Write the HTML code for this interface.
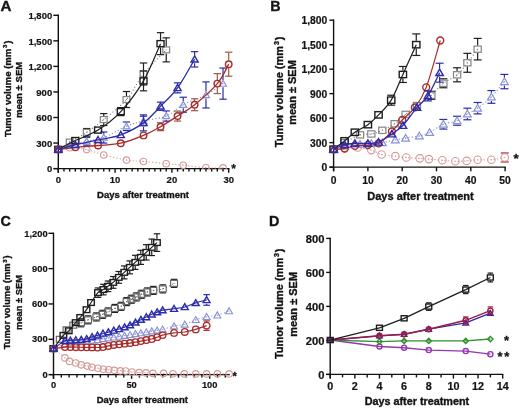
<!DOCTYPE html><html><head><meta charset="utf-8"><style>html,body{margin:0;padding:0;background:#fff;width:520px;height:408px;overflow:hidden}svg{display:block;filter:blur(0.3px)}text{font-family:"Liberation Sans",sans-serif}</style></head><body>
<svg width="520" height="408" viewBox="0 0 520 408">
<rect width="520" height="408" fill="#fff"/>
<text transform="translate(0.5,11.1)" font-size="15.2" text-anchor="start" fill="#141414" font-weight="bold" stroke="#141414" stroke-width="0.35">A</text>
<line x1="58.3" y1="14.6" x2="58.3" y2="172.8" stroke="#111" stroke-width="1.4"/>
<line x1="54.1" y1="168.6" x2="229.4" y2="168.6" stroke="#111" stroke-width="1.4"/>
<line x1="53.3" y1="168.6" x2="58.3" y2="168.6" stroke="#111" stroke-width="1.4"/>
<text transform="translate(52.2,172.4)" font-size="9.5" text-anchor="end" fill="#141414" font-weight="bold" stroke="#141414" stroke-width="0.2">0</text>
<line x1="53.3" y1="143.05" x2="58.3" y2="143.05" stroke="#111" stroke-width="1.4"/>
<text transform="translate(52.2,146.85)" font-size="9.5" text-anchor="end" fill="#141414" font-weight="bold" stroke="#141414" stroke-width="0.2">300</text>
<line x1="53.3" y1="117.5" x2="58.3" y2="117.5" stroke="#111" stroke-width="1.4"/>
<text transform="translate(52.2,121.3)" font-size="9.5" text-anchor="end" fill="#141414" font-weight="bold" stroke="#141414" stroke-width="0.2">600</text>
<line x1="53.3" y1="91.95" x2="58.3" y2="91.95" stroke="#111" stroke-width="1.4"/>
<text transform="translate(52.2,95.75)" font-size="9.5" text-anchor="end" fill="#141414" font-weight="bold" stroke="#141414" stroke-width="0.2">900</text>
<line x1="53.3" y1="66.4" x2="58.3" y2="66.4" stroke="#111" stroke-width="1.4"/>
<text transform="translate(52.2,70.2)" font-size="9.5" text-anchor="end" fill="#141414" font-weight="bold" stroke="#141414" stroke-width="0.2">1,200</text>
<line x1="53.3" y1="40.85" x2="58.3" y2="40.85" stroke="#111" stroke-width="1.4"/>
<text transform="translate(52.2,44.65)" font-size="9.5" text-anchor="end" fill="#141414" font-weight="bold" stroke="#141414" stroke-width="0.2">1,500</text>
<line x1="53.3" y1="15.3" x2="58.3" y2="15.3" stroke="#111" stroke-width="1.4"/>
<text transform="translate(52.2,19.1)" font-size="9.5" text-anchor="end" fill="#141414" font-weight="bold" stroke="#141414" stroke-width="0.2">1,800</text>
<line x1="63.98" y1="168.6" x2="63.98" y2="171.6" stroke="#111" stroke-width="1.4"/>
<line x1="69.66" y1="168.6" x2="69.66" y2="171.6" stroke="#111" stroke-width="1.4"/>
<line x1="75.34" y1="168.6" x2="75.34" y2="171.6" stroke="#111" stroke-width="1.4"/>
<line x1="81.02" y1="168.6" x2="81.02" y2="171.6" stroke="#111" stroke-width="1.4"/>
<line x1="86.7" y1="168.6" x2="86.7" y2="171.6" stroke="#111" stroke-width="1.4"/>
<line x1="92.38" y1="168.6" x2="92.38" y2="171.6" stroke="#111" stroke-width="1.4"/>
<line x1="98.06" y1="168.6" x2="98.06" y2="171.6" stroke="#111" stroke-width="1.4"/>
<line x1="103.74" y1="168.6" x2="103.74" y2="171.6" stroke="#111" stroke-width="1.4"/>
<line x1="109.42" y1="168.6" x2="109.42" y2="171.6" stroke="#111" stroke-width="1.4"/>
<line x1="120.78" y1="168.6" x2="120.78" y2="171.6" stroke="#111" stroke-width="1.4"/>
<line x1="126.46" y1="168.6" x2="126.46" y2="171.6" stroke="#111" stroke-width="1.4"/>
<line x1="132.14" y1="168.6" x2="132.14" y2="171.6" stroke="#111" stroke-width="1.4"/>
<line x1="137.82" y1="168.6" x2="137.82" y2="171.6" stroke="#111" stroke-width="1.4"/>
<line x1="143.5" y1="168.6" x2="143.5" y2="171.6" stroke="#111" stroke-width="1.4"/>
<line x1="149.18" y1="168.6" x2="149.18" y2="171.6" stroke="#111" stroke-width="1.4"/>
<line x1="154.86" y1="168.6" x2="154.86" y2="171.6" stroke="#111" stroke-width="1.4"/>
<line x1="160.54" y1="168.6" x2="160.54" y2="171.6" stroke="#111" stroke-width="1.4"/>
<line x1="166.22" y1="168.6" x2="166.22" y2="171.6" stroke="#111" stroke-width="1.4"/>
<line x1="177.58" y1="168.6" x2="177.58" y2="171.6" stroke="#111" stroke-width="1.4"/>
<line x1="183.26" y1="168.6" x2="183.26" y2="171.6" stroke="#111" stroke-width="1.4"/>
<line x1="188.94" y1="168.6" x2="188.94" y2="171.6" stroke="#111" stroke-width="1.4"/>
<line x1="194.62" y1="168.6" x2="194.62" y2="171.6" stroke="#111" stroke-width="1.4"/>
<line x1="200.3" y1="168.6" x2="200.3" y2="171.6" stroke="#111" stroke-width="1.4"/>
<line x1="205.98" y1="168.6" x2="205.98" y2="171.6" stroke="#111" stroke-width="1.4"/>
<line x1="211.66" y1="168.6" x2="211.66" y2="171.6" stroke="#111" stroke-width="1.4"/>
<line x1="217.34" y1="168.6" x2="217.34" y2="171.6" stroke="#111" stroke-width="1.4"/>
<line x1="223.02" y1="168.6" x2="223.02" y2="171.6" stroke="#111" stroke-width="1.4"/>
<line x1="58.3" y1="168.6" x2="58.3" y2="172.8" stroke="#111" stroke-width="1.4"/>
<text transform="translate(58.3,183.4)" font-size="9.5" text-anchor="middle" fill="#141414" font-weight="bold" stroke="#141414" stroke-width="0.2">0</text>
<line x1="115.1" y1="168.6" x2="115.1" y2="172.8" stroke="#111" stroke-width="1.4"/>
<text transform="translate(115.1,183.4)" font-size="9.5" text-anchor="middle" fill="#141414" font-weight="bold" stroke="#141414" stroke-width="0.2">10</text>
<line x1="171.9" y1="168.6" x2="171.9" y2="172.8" stroke="#111" stroke-width="1.4"/>
<text transform="translate(171.9,183.4)" font-size="9.5" text-anchor="middle" fill="#141414" font-weight="bold" stroke="#141414" stroke-width="0.2">20</text>
<line x1="228.7" y1="168.6" x2="228.7" y2="172.8" stroke="#111" stroke-width="1.4"/>
<text transform="translate(228.7,183.4)" font-size="9.5" text-anchor="middle" fill="#141414" font-weight="bold" stroke="#141414" stroke-width="0.2">30</text>
<text transform="translate(10.5,88.7) rotate(-90)" font-size="9.6" text-anchor="middle" fill="#141414" font-weight="bold" stroke="#141414" stroke-width="0.35">Tumor volume (mm<tspan font-size="6.1" dx="0.7" dy="-3.5">3</tspan><tspan dx="0.8" dy="3.5">)</tspan></text>
<text transform="translate(22.4,89.9) rotate(-90)" font-size="9.6" text-anchor="middle" fill="#141414" font-weight="bold" stroke="#141414" stroke-width="0.35">mean ± SEM</text>
<text transform="translate(143.05,198)" font-size="9.5" text-anchor="middle" fill="#141414" font-weight="bold" stroke="#141414" stroke-width="0.35">Days after treatment</text>
<text transform="translate(231.2,173.3)" font-size="12" text-anchor="start" fill="#141414" font-weight="bold" stroke="#141414" stroke-width="0.2">*</text>
<clipPath id="clipA"><rect x="0" y="0" width="260" height="169.2"/></clipPath><g clip-path="url(#clipA)">
<path d="M58.3,149.44 C60.19,149.15 64.93,147.71 69.66,147.73 C74.39,147.76 81.02,148.4 86.7,149.61 C92.38,150.81 97.11,153.23 103.74,154.97 C110.37,156.72 119.83,159 126.46,160.08 C133.09,161.16 136.87,160.84 143.5,161.45 C150.13,162.06 159.59,163.12 166.22,163.75 C172.85,164.37 176.63,164.53 183.26,165.19 C189.89,165.86 199.35,167.29 205.98,167.75 C212.61,168.2 220.18,167.89 223.02,167.92" fill="none" stroke="#d49a9a" stroke-width="1.1" stroke-dasharray="1.2,2.1"/>
<circle cx="58.3" cy="149.44" r="3.25" fill="none" stroke="#d49a9a" stroke-width="1.1"/>
<rect x="57.8" y="148.94" width="1" height="1" fill="#d49a9a"/>
<circle cx="69.66" cy="147.73" r="3.25" fill="none" stroke="#d49a9a" stroke-width="1.1"/>
<rect x="69.16" y="147.23" width="1" height="1" fill="#d49a9a"/>
<circle cx="86.7" cy="149.61" r="3.25" fill="none" stroke="#d49a9a" stroke-width="1.1"/>
<rect x="86.2" y="149.11" width="1" height="1" fill="#d49a9a"/>
<circle cx="103.74" cy="154.97" r="3.25" fill="none" stroke="#d49a9a" stroke-width="1.1"/>
<rect x="103.24" y="154.47" width="1" height="1" fill="#d49a9a"/>
<circle cx="126.46" cy="160.08" r="3.25" fill="none" stroke="#d49a9a" stroke-width="1.1"/>
<rect x="125.96" y="159.58" width="1" height="1" fill="#d49a9a"/>
<circle cx="143.5" cy="161.45" r="3.25" fill="none" stroke="#d49a9a" stroke-width="1.1"/>
<rect x="143" y="160.95" width="1" height="1" fill="#d49a9a"/>
<circle cx="166.22" cy="163.75" r="3.25" fill="none" stroke="#d49a9a" stroke-width="1.1"/>
<rect x="165.72" y="163.25" width="1" height="1" fill="#d49a9a"/>
<circle cx="183.26" cy="165.19" r="3.25" fill="none" stroke="#d49a9a" stroke-width="1.1"/>
<rect x="182.76" y="164.69" width="1" height="1" fill="#d49a9a"/>
<circle cx="205.98" cy="167.75" r="3.25" fill="none" stroke="#d49a9a" stroke-width="1.1"/>
<rect x="205.48" y="167.25" width="1" height="1" fill="#d49a9a"/>
<circle cx="223.02" cy="167.92" r="3.25" fill="none" stroke="#d49a9a" stroke-width="1.1"/>
<rect x="222.52" y="167.42" width="1" height="1" fill="#d49a9a"/>
</g>
<path d="M58.3,149.44 C60.19,148.73 64.93,146.54 69.66,145.18 C74.39,143.82 81.02,142.54 86.7,141.26 C92.38,139.98 97.11,140.01 103.74,137.51 C110.37,135.02 119.83,129.04 126.46,126.27 C133.09,123.5 136.87,122.61 143.5,120.91 C150.13,119.2 159.59,118.75 166.22,116.05 C172.85,113.36 176.63,108.25 183.26,104.72 C189.89,101.2 199.35,98.45 205.98,94.93 C212.61,91.41 220.18,85.49 223.02,83.6" fill="none" stroke="#8a92d2" stroke-width="1.1" stroke-dasharray="1.2,2.1"/>
<line x1="86.7" y1="137.36" x2="86.7" y2="137.66" stroke="#2b2bab" stroke-width="1.2"/>
<line x1="86.7" y1="144.86" x2="86.7" y2="145.16" stroke="#2b2bab" stroke-width="1.2"/>
<line x1="83.05" y1="137.36" x2="90.35" y2="137.36" stroke="#2b2bab" stroke-width="1.2"/>
<line x1="83.05" y1="145.16" x2="90.35" y2="145.16" stroke="#2b2bab" stroke-width="1.2"/>
<line x1="103.74" y1="131.98" x2="103.74" y2="133.91" stroke="#2b2bab" stroke-width="1.2"/>
<line x1="103.74" y1="141.11" x2="103.74" y2="143.05" stroke="#2b2bab" stroke-width="1.2"/>
<line x1="100.09" y1="131.98" x2="107.39" y2="131.98" stroke="#2b2bab" stroke-width="1.2"/>
<line x1="100.09" y1="143.05" x2="107.39" y2="143.05" stroke="#2b2bab" stroke-width="1.2"/>
<line x1="126.46" y1="122.01" x2="126.46" y2="122.67" stroke="#2b2bab" stroke-width="1.2"/>
<line x1="126.46" y1="129.87" x2="126.46" y2="130.53" stroke="#2b2bab" stroke-width="1.2"/>
<line x1="122.81" y1="122.01" x2="130.11" y2="122.01" stroke="#2b2bab" stroke-width="1.2"/>
<line x1="122.81" y1="130.53" x2="130.11" y2="130.53" stroke="#2b2bab" stroke-width="1.2"/>
<line x1="143.5" y1="116.22" x2="143.5" y2="117.31" stroke="#2b2bab" stroke-width="1.2"/>
<line x1="143.5" y1="124.51" x2="143.5" y2="125.59" stroke="#2b2bab" stroke-width="1.2"/>
<line x1="139.85" y1="116.22" x2="147.15" y2="116.22" stroke="#2b2bab" stroke-width="1.2"/>
<line x1="139.85" y1="125.59" x2="147.15" y2="125.59" stroke="#2b2bab" stroke-width="1.2"/>
<line x1="166.22" y1="110.94" x2="166.22" y2="112.45" stroke="#2b2bab" stroke-width="1.2"/>
<line x1="166.22" y1="119.65" x2="166.22" y2="121.16" stroke="#2b2bab" stroke-width="1.2"/>
<line x1="162.57" y1="110.94" x2="169.87" y2="110.94" stroke="#2b2bab" stroke-width="1.2"/>
<line x1="162.57" y1="121.16" x2="169.87" y2="121.16" stroke="#2b2bab" stroke-width="1.2"/>
<line x1="183.26" y1="97.23" x2="183.26" y2="101.12" stroke="#2b2bab" stroke-width="1.2"/>
<line x1="183.26" y1="108.32" x2="183.26" y2="112.22" stroke="#2b2bab" stroke-width="1.2"/>
<line x1="179.61" y1="97.23" x2="186.91" y2="97.23" stroke="#2b2bab" stroke-width="1.2"/>
<line x1="179.61" y1="112.22" x2="186.91" y2="112.22" stroke="#2b2bab" stroke-width="1.2"/>
<line x1="205.98" y1="81.9" x2="205.98" y2="91.33" stroke="#2b2bab" stroke-width="1.2"/>
<line x1="205.98" y1="98.53" x2="205.98" y2="107.96" stroke="#2b2bab" stroke-width="1.2"/>
<line x1="202.33" y1="81.9" x2="209.63" y2="81.9" stroke="#2b2bab" stroke-width="1.2"/>
<line x1="202.33" y1="107.96" x2="209.63" y2="107.96" stroke="#2b2bab" stroke-width="1.2"/>
<line x1="223.02" y1="68.02" x2="223.02" y2="80" stroke="#2b2bab" stroke-width="1.2"/>
<line x1="223.02" y1="87.2" x2="223.02" y2="99.19" stroke="#2b2bab" stroke-width="1.2"/>
<line x1="219.37" y1="68.02" x2="226.67" y2="68.02" stroke="#2b2bab" stroke-width="1.2"/>
<line x1="219.37" y1="99.19" x2="226.67" y2="99.19" stroke="#2b2bab" stroke-width="1.2"/>
<path d="M58.3,146.14 L61.77,152.08 L54.83,152.08 Z" fill="none" stroke="#8a92d2" stroke-width="1.2" stroke-linejoin="miter"/>
<rect x="57.8" y="148.94" width="1" height="1" fill="#8a92d2"/>
<path d="M69.66,141.88 L73.12,147.82 L66.19,147.82 Z" fill="none" stroke="#8a92d2" stroke-width="1.2" stroke-linejoin="miter"/>
<rect x="69.16" y="144.68" width="1" height="1" fill="#8a92d2"/>
<path d="M86.7,137.96 L90.16,143.9 L83.23,143.9 Z" fill="none" stroke="#8a92d2" stroke-width="1.2" stroke-linejoin="miter"/>
<rect x="86.2" y="140.76" width="1" height="1" fill="#8a92d2"/>
<path d="M103.74,134.21 L107.2,140.15 L100.27,140.15 Z" fill="none" stroke="#8a92d2" stroke-width="1.2" stroke-linejoin="miter"/>
<rect x="103.24" y="137.01" width="1" height="1" fill="#8a92d2"/>
<path d="M126.46,122.97 L129.92,128.91 L122.99,128.91 Z" fill="none" stroke="#8a92d2" stroke-width="1.2" stroke-linejoin="miter"/>
<rect x="125.96" y="125.77" width="1" height="1" fill="#8a92d2"/>
<path d="M143.5,117.61 L146.97,123.55 L140.03,123.55 Z" fill="none" stroke="#8a92d2" stroke-width="1.2" stroke-linejoin="miter"/>
<rect x="143" y="120.41" width="1" height="1" fill="#8a92d2"/>
<path d="M166.22,112.75 L169.68,118.69 L162.75,118.69 Z" fill="none" stroke="#8a92d2" stroke-width="1.2" stroke-linejoin="miter"/>
<rect x="165.72" y="115.55" width="1" height="1" fill="#8a92d2"/>
<path d="M183.26,101.42 L186.72,107.36 L179.79,107.36 Z" fill="none" stroke="#8a92d2" stroke-width="1.2" stroke-linejoin="miter"/>
<rect x="182.76" y="104.22" width="1" height="1" fill="#8a92d2"/>
<path d="M205.98,91.63 L209.45,97.57 L202.52,97.57 Z" fill="none" stroke="#8a92d2" stroke-width="1.2" stroke-linejoin="miter"/>
<rect x="205.48" y="94.43" width="1" height="1" fill="#8a92d2"/>
<path d="M223.02,80.3 L226.48,86.24 L219.55,86.24 Z" fill="none" stroke="#8a92d2" stroke-width="1.2" stroke-linejoin="miter"/>
<rect x="222.52" y="83.1" width="1" height="1" fill="#8a92d2"/>
<path d="M58.3,149.44 C60.19,148.2 64.93,144.88 69.66,142.03 C74.39,139.17 81.02,136.07 86.7,132.32 C92.38,128.57 97.11,125.01 103.74,119.54 C110.37,114.08 119.83,107.12 126.46,99.53 C133.09,91.94 136.87,82.26 143.5,73.98 C150.13,65.7 162.43,53.89 166.22,49.88" fill="none" stroke="#858585" stroke-width="1.1" stroke-dasharray="1.2,2.1"/>
<line x1="86.7" y1="128.52" x2="86.7" y2="128.82" stroke="#1e1e1e" stroke-width="1.2"/>
<line x1="86.7" y1="135.82" x2="86.7" y2="136.12" stroke="#1e1e1e" stroke-width="1.2"/>
<line x1="83.05" y1="128.52" x2="90.35" y2="128.52" stroke="#1e1e1e" stroke-width="1.2"/>
<line x1="83.05" y1="136.12" x2="90.35" y2="136.12" stroke="#1e1e1e" stroke-width="1.2"/>
<line x1="103.74" y1="113.58" x2="103.74" y2="116.04" stroke="#1e1e1e" stroke-width="1.2"/>
<line x1="103.74" y1="123.04" x2="103.74" y2="125.51" stroke="#1e1e1e" stroke-width="1.2"/>
<line x1="100.09" y1="113.58" x2="107.39" y2="113.58" stroke="#1e1e1e" stroke-width="1.2"/>
<line x1="100.09" y1="125.51" x2="107.39" y2="125.51" stroke="#1e1e1e" stroke-width="1.2"/>
<line x1="126.46" y1="91.52" x2="126.46" y2="96.03" stroke="#1e1e1e" stroke-width="1.2"/>
<line x1="126.46" y1="103.03" x2="126.46" y2="107.54" stroke="#1e1e1e" stroke-width="1.2"/>
<line x1="122.81" y1="91.52" x2="130.11" y2="91.52" stroke="#1e1e1e" stroke-width="1.2"/>
<line x1="122.81" y1="107.54" x2="130.11" y2="107.54" stroke="#1e1e1e" stroke-width="1.2"/>
<line x1="143.5" y1="62.99" x2="143.5" y2="70.48" stroke="#1e1e1e" stroke-width="1.2"/>
<line x1="143.5" y1="77.48" x2="143.5" y2="84.97" stroke="#1e1e1e" stroke-width="1.2"/>
<line x1="139.85" y1="62.99" x2="147.15" y2="62.99" stroke="#1e1e1e" stroke-width="1.2"/>
<line x1="139.85" y1="84.97" x2="147.15" y2="84.97" stroke="#1e1e1e" stroke-width="1.2"/>
<line x1="166.22" y1="37.87" x2="166.22" y2="46.38" stroke="#1e1e1e" stroke-width="1.2"/>
<line x1="166.22" y1="53.38" x2="166.22" y2="61.89" stroke="#1e1e1e" stroke-width="1.2"/>
<line x1="162.57" y1="37.87" x2="169.87" y2="37.87" stroke="#1e1e1e" stroke-width="1.2"/>
<line x1="162.57" y1="61.89" x2="169.87" y2="61.89" stroke="#1e1e1e" stroke-width="1.2"/>
<rect x="54.91" y="146.49" width="6.78" height="5.89" fill="none" stroke="#858585" stroke-width="1.2"/>
<rect x="57.8" y="148.94" width="1" height="1" fill="#858585"/>
<rect x="66.27" y="139.08" width="6.78" height="5.89" fill="none" stroke="#858585" stroke-width="1.2"/>
<rect x="69.16" y="141.53" width="1" height="1" fill="#858585"/>
<rect x="83.31" y="129.38" width="6.78" height="5.89" fill="none" stroke="#858585" stroke-width="1.2"/>
<rect x="86.2" y="131.82" width="1" height="1" fill="#858585"/>
<rect x="100.35" y="116.6" width="6.78" height="5.89" fill="none" stroke="#858585" stroke-width="1.2"/>
<rect x="103.24" y="119.04" width="1" height="1" fill="#858585"/>
<rect x="123.07" y="96.59" width="6.78" height="5.89" fill="none" stroke="#858585" stroke-width="1.2"/>
<rect x="125.96" y="99.03" width="1" height="1" fill="#858585"/>
<rect x="140.11" y="71.04" width="6.78" height="5.89" fill="none" stroke="#858585" stroke-width="1.2"/>
<rect x="143" y="73.48" width="1" height="1" fill="#858585"/>
<rect x="162.83" y="46.93" width="6.78" height="5.89" fill="none" stroke="#858585" stroke-width="1.2"/>
<rect x="165.72" y="49.38" width="1" height="1" fill="#858585"/>
<path d="M58.3,149.44 C61.14,147.96 68.71,143.8 75.34,140.58 C81.97,137.36 90.49,134.93 98.06,130.1 C105.63,125.28 113.21,119.83 120.78,111.62 C128.35,103.42 136.87,92.21 143.5,80.88 C150.13,69.55 157.7,49.86 160.54,43.66" fill="none" stroke="#1e1e1e" stroke-width="1.2"/>
<line x1="120.78" y1="107.62" x2="120.78" y2="107.92" stroke="#1e1e1e" stroke-width="1.2"/>
<line x1="120.78" y1="115.32" x2="120.78" y2="115.62" stroke="#1e1e1e" stroke-width="1.2"/>
<line x1="117.13" y1="107.62" x2="124.43" y2="107.62" stroke="#1e1e1e" stroke-width="1.2"/>
<line x1="117.13" y1="115.62" x2="124.43" y2="115.62" stroke="#1e1e1e" stroke-width="1.2"/>
<line x1="143.5" y1="70.91" x2="143.5" y2="77.18" stroke="#1e1e1e" stroke-width="1.2"/>
<line x1="143.5" y1="84.58" x2="143.5" y2="90.84" stroke="#1e1e1e" stroke-width="1.2"/>
<line x1="139.85" y1="70.91" x2="147.15" y2="70.91" stroke="#1e1e1e" stroke-width="1.2"/>
<line x1="139.85" y1="90.84" x2="147.15" y2="90.84" stroke="#1e1e1e" stroke-width="1.2"/>
<line x1="160.54" y1="32.67" x2="160.54" y2="39.96" stroke="#1e1e1e" stroke-width="1.2"/>
<line x1="160.54" y1="47.36" x2="160.54" y2="54.65" stroke="#1e1e1e" stroke-width="1.2"/>
<line x1="156.89" y1="32.67" x2="164.19" y2="32.67" stroke="#1e1e1e" stroke-width="1.2"/>
<line x1="156.89" y1="54.65" x2="164.19" y2="54.65" stroke="#1e1e1e" stroke-width="1.2"/>
<rect x="54.8" y="146.4" width="7" height="6.07" fill="none" stroke="#1e1e1e" stroke-width="1.4"/>
<rect x="71.84" y="137.54" width="7" height="6.07" fill="none" stroke="#1e1e1e" stroke-width="1.4"/>
<rect x="94.56" y="127.07" width="7" height="6.07" fill="none" stroke="#1e1e1e" stroke-width="1.4"/>
<rect x="117.28" y="108.59" width="7" height="6.07" fill="none" stroke="#1e1e1e" stroke-width="1.4"/>
<rect x="140" y="77.84" width="7" height="6.07" fill="none" stroke="#1e1e1e" stroke-width="1.4"/>
<rect x="157.04" y="40.62" width="7" height="6.07" fill="none" stroke="#1e1e1e" stroke-width="1.4"/>
<path d="M58.3,149.44 C61.14,149.08 68.71,147.96 75.34,147.31 C81.97,146.66 90.49,146.2 98.06,145.52 C105.63,144.84 113.21,144.91 120.78,143.22 C128.35,141.53 136.87,138.14 143.5,135.38 C150.13,132.63 154.86,129.92 160.54,126.7 C166.22,123.48 171.9,119.71 177.58,116.05 C183.26,112.39 187.99,110.13 194.62,104.72 C201.25,99.32 211.66,90.36 217.34,83.6 C223.02,76.85 226.81,67.42 228.7,64.19" fill="none" stroke="#a82a2a" stroke-width="1.3"/>
<line x1="160.54" y1="122.75" x2="160.54" y2="123.05" stroke="#9c5a4a" stroke-width="1.2"/>
<line x1="160.54" y1="130.35" x2="160.54" y2="130.65" stroke="#9c5a4a" stroke-width="1.2"/>
<line x1="156.89" y1="122.75" x2="164.19" y2="122.75" stroke="#9c5a4a" stroke-width="1.2"/>
<line x1="156.89" y1="130.65" x2="164.19" y2="130.65" stroke="#9c5a4a" stroke-width="1.2"/>
<line x1="177.58" y1="111.03" x2="177.58" y2="112.4" stroke="#9c5a4a" stroke-width="1.2"/>
<line x1="177.58" y1="119.7" x2="177.58" y2="121.08" stroke="#9c5a4a" stroke-width="1.2"/>
<line x1="173.93" y1="111.03" x2="181.23" y2="111.03" stroke="#9c5a4a" stroke-width="1.2"/>
<line x1="173.93" y1="121.08" x2="181.23" y2="121.08" stroke="#9c5a4a" stroke-width="1.2"/>
<line x1="194.62" y1="98.76" x2="194.62" y2="101.07" stroke="#9c5a4a" stroke-width="1.2"/>
<line x1="194.62" y1="108.38" x2="194.62" y2="110.69" stroke="#9c5a4a" stroke-width="1.2"/>
<line x1="190.97" y1="98.76" x2="198.27" y2="98.76" stroke="#9c5a4a" stroke-width="1.2"/>
<line x1="190.97" y1="110.69" x2="198.27" y2="110.69" stroke="#9c5a4a" stroke-width="1.2"/>
<line x1="217.34" y1="73.64" x2="217.34" y2="79.95" stroke="#9c5a4a" stroke-width="1.2"/>
<line x1="217.34" y1="87.25" x2="217.34" y2="93.57" stroke="#9c5a4a" stroke-width="1.2"/>
<line x1="213.69" y1="73.64" x2="220.99" y2="73.64" stroke="#9c5a4a" stroke-width="1.2"/>
<line x1="213.69" y1="93.57" x2="220.99" y2="93.57" stroke="#9c5a4a" stroke-width="1.2"/>
<line x1="228.7" y1="52.18" x2="228.7" y2="60.54" stroke="#9c5a4a" stroke-width="1.2"/>
<line x1="228.7" y1="67.84" x2="228.7" y2="76.19" stroke="#9c5a4a" stroke-width="1.2"/>
<line x1="225.05" y1="52.18" x2="232.35" y2="52.18" stroke="#9c5a4a" stroke-width="1.2"/>
<line x1="225.05" y1="76.19" x2="232.35" y2="76.19" stroke="#9c5a4a" stroke-width="1.2"/>
<circle cx="58.3" cy="149.44" r="3.25" fill="none" stroke="#a82a2a" stroke-width="1.4"/>
<circle cx="75.34" cy="147.31" r="3.25" fill="none" stroke="#a82a2a" stroke-width="1.4"/>
<circle cx="98.06" cy="145.52" r="3.25" fill="none" stroke="#a82a2a" stroke-width="1.4"/>
<circle cx="120.78" cy="143.22" r="3.25" fill="none" stroke="#a82a2a" stroke-width="1.4"/>
<circle cx="143.5" cy="135.38" r="3.25" fill="none" stroke="#a82a2a" stroke-width="1.4"/>
<circle cx="160.54" cy="126.7" r="3.25" fill="none" stroke="#a82a2a" stroke-width="1.4"/>
<circle cx="177.58" cy="116.05" r="3.25" fill="none" stroke="#a82a2a" stroke-width="1.4"/>
<circle cx="194.62" cy="104.72" r="3.25" fill="none" stroke="#a82a2a" stroke-width="1.4"/>
<circle cx="217.34" cy="83.6" r="3.25" fill="none" stroke="#a82a2a" stroke-width="1.4"/>
<circle cx="228.7" cy="64.19" r="3.25" fill="none" stroke="#a82a2a" stroke-width="1.4"/>
<path d="M58.3,149.44 C61.14,148.66 68.71,146.34 75.34,144.75 C81.97,143.16 90.49,141.55 98.06,139.9 C105.63,138.25 113.21,137.71 120.78,134.87 C128.35,132.04 136.87,127.63 143.5,122.87 C150.13,118.1 154.86,112.09 160.54,106.26 C166.22,100.42 171.9,95.68 177.58,87.86 C183.26,80.04 191.78,64.09 194.62,59.33" fill="none" stroke="#2b2bab" stroke-width="1.3"/>
<line x1="143.5" y1="114.86" x2="143.5" y2="119.07" stroke="#2b2bab" stroke-width="1.2"/>
<line x1="143.5" y1="126.67" x2="143.5" y2="130.87" stroke="#2b2bab" stroke-width="1.2"/>
<line x1="139.85" y1="114.86" x2="147.15" y2="114.86" stroke="#2b2bab" stroke-width="1.2"/>
<line x1="139.85" y1="130.87" x2="147.15" y2="130.87" stroke="#2b2bab" stroke-width="1.2"/>
<line x1="160.54" y1="102.16" x2="160.54" y2="102.46" stroke="#2b2bab" stroke-width="1.2"/>
<line x1="160.54" y1="110.06" x2="160.54" y2="110.36" stroke="#2b2bab" stroke-width="1.2"/>
<line x1="156.89" y1="102.16" x2="164.19" y2="102.16" stroke="#2b2bab" stroke-width="1.2"/>
<line x1="156.89" y1="110.36" x2="164.19" y2="110.36" stroke="#2b2bab" stroke-width="1.2"/>
<line x1="177.58" y1="82.84" x2="177.58" y2="84.06" stroke="#2b2bab" stroke-width="1.2"/>
<line x1="177.58" y1="91.66" x2="177.58" y2="92.89" stroke="#2b2bab" stroke-width="1.2"/>
<line x1="173.93" y1="82.84" x2="181.23" y2="82.84" stroke="#2b2bab" stroke-width="1.2"/>
<line x1="173.93" y1="92.89" x2="181.23" y2="92.89" stroke="#2b2bab" stroke-width="1.2"/>
<line x1="194.62" y1="51.67" x2="194.62" y2="55.53" stroke="#2b2bab" stroke-width="1.2"/>
<line x1="194.62" y1="63.13" x2="194.62" y2="67" stroke="#2b2bab" stroke-width="1.2"/>
<line x1="190.97" y1="51.67" x2="198.27" y2="51.67" stroke="#2b2bab" stroke-width="1.2"/>
<line x1="190.97" y1="67" x2="198.27" y2="67" stroke="#2b2bab" stroke-width="1.2"/>
<path d="M58.3,146.04 L61.87,152.16 L54.73,152.16 Z" fill="none" stroke="#2b2bab" stroke-width="1.4" stroke-linejoin="miter"/>
<path d="M75.34,141.35 L78.91,147.47 L71.77,147.47 Z" fill="none" stroke="#2b2bab" stroke-width="1.4" stroke-linejoin="miter"/>
<path d="M98.06,136.5 L101.63,142.62 L94.49,142.62 Z" fill="none" stroke="#2b2bab" stroke-width="1.4" stroke-linejoin="miter"/>
<path d="M120.78,131.47 L124.35,137.59 L117.21,137.59 Z" fill="none" stroke="#2b2bab" stroke-width="1.4" stroke-linejoin="miter"/>
<path d="M143.5,119.47 L147.07,125.59 L139.93,125.59 Z" fill="none" stroke="#2b2bab" stroke-width="1.4" stroke-linejoin="miter"/>
<path d="M160.54,102.86 L164.11,108.98 L156.97,108.98 Z" fill="none" stroke="#2b2bab" stroke-width="1.4" stroke-linejoin="miter"/>
<path d="M177.58,84.46 L181.15,90.58 L174.01,90.58 Z" fill="none" stroke="#2b2bab" stroke-width="1.4" stroke-linejoin="miter"/>
<path d="M194.62,55.93 L198.19,62.05 L191.05,62.05 Z" fill="none" stroke="#2b2bab" stroke-width="1.4" stroke-linejoin="miter"/>
<text transform="translate(270.2,11)" font-size="14.3" text-anchor="start" fill="#141414" font-weight="bold" stroke="#141414" stroke-width="0.35">B</text>
<line x1="333.6" y1="19.5" x2="333.6" y2="171.3" stroke="#111" stroke-width="1.4"/>
<line x1="329.4" y1="167.1" x2="505.8" y2="167.1" stroke="#111" stroke-width="1.4"/>
<line x1="329.4" y1="167.1" x2="333.6" y2="167.1" stroke="#111" stroke-width="1.4"/>
<text transform="translate(327.3,171.3)" font-size="10.3" text-anchor="end" fill="#141414" font-weight="bold" stroke="#141414" stroke-width="0.2">0</text>
<line x1="329.4" y1="142.62" x2="333.6" y2="142.62" stroke="#111" stroke-width="1.4"/>
<text transform="translate(327.3,146.82)" font-size="10.3" text-anchor="end" fill="#141414" font-weight="bold" stroke="#141414" stroke-width="0.2">300</text>
<line x1="329.4" y1="118.13" x2="333.6" y2="118.13" stroke="#111" stroke-width="1.4"/>
<text transform="translate(327.3,122.33)" font-size="10.3" text-anchor="end" fill="#141414" font-weight="bold" stroke="#141414" stroke-width="0.2">600</text>
<line x1="329.4" y1="93.65" x2="333.6" y2="93.65" stroke="#111" stroke-width="1.4"/>
<text transform="translate(327.3,97.85)" font-size="10.3" text-anchor="end" fill="#141414" font-weight="bold" stroke="#141414" stroke-width="0.2">900</text>
<line x1="329.4" y1="69.17" x2="333.6" y2="69.17" stroke="#111" stroke-width="1.4"/>
<text transform="translate(327.3,73.37)" font-size="10.3" text-anchor="end" fill="#141414" font-weight="bold" stroke="#141414" stroke-width="0.2">1,200</text>
<line x1="329.4" y1="44.68" x2="333.6" y2="44.68" stroke="#111" stroke-width="1.4"/>
<text transform="translate(327.3,48.88)" font-size="10.3" text-anchor="end" fill="#141414" font-weight="bold" stroke="#141414" stroke-width="0.2">1,500</text>
<line x1="329.4" y1="20.2" x2="333.6" y2="20.2" stroke="#111" stroke-width="1.4"/>
<text transform="translate(327.3,24.4)" font-size="10.3" text-anchor="end" fill="#141414" font-weight="bold" stroke="#141414" stroke-width="0.2">1,800</text>
<line x1="333.6" y1="167.1" x2="333.6" y2="171.3" stroke="#111" stroke-width="1.4"/>
<text transform="translate(333.6,183.8)" font-size="10.3" text-anchor="middle" fill="#141414" font-weight="bold" stroke="#141414" stroke-width="0.2">0</text>
<line x1="367.9" y1="167.1" x2="367.9" y2="171.3" stroke="#111" stroke-width="1.4"/>
<text transform="translate(367.9,183.8)" font-size="10.3" text-anchor="middle" fill="#141414" font-weight="bold" stroke="#141414" stroke-width="0.2">10</text>
<line x1="402.2" y1="167.1" x2="402.2" y2="171.3" stroke="#111" stroke-width="1.4"/>
<text transform="translate(402.2,183.8)" font-size="10.3" text-anchor="middle" fill="#141414" font-weight="bold" stroke="#141414" stroke-width="0.2">20</text>
<line x1="436.5" y1="167.1" x2="436.5" y2="171.3" stroke="#111" stroke-width="1.4"/>
<text transform="translate(436.5,183.8)" font-size="10.3" text-anchor="middle" fill="#141414" font-weight="bold" stroke="#141414" stroke-width="0.2">30</text>
<line x1="470.8" y1="167.1" x2="470.8" y2="171.3" stroke="#111" stroke-width="1.4"/>
<text transform="translate(470.8,183.8)" font-size="10.3" text-anchor="middle" fill="#141414" font-weight="bold" stroke="#141414" stroke-width="0.2">40</text>
<line x1="505.1" y1="167.1" x2="505.1" y2="171.3" stroke="#111" stroke-width="1.4"/>
<text transform="translate(505.1,183.8)" font-size="10.3" text-anchor="middle" fill="#141414" font-weight="bold" stroke="#141414" stroke-width="0.2">50</text>
<text transform="translate(282.8,91.9) rotate(-90)" font-size="11" text-anchor="middle" fill="#141414" font-weight="bold" stroke="#141414" stroke-width="0.35">Tumor volume (mm<tspan font-size="7.0" dx="0.8" dy="-4.0">3</tspan><tspan dx="0.9" dy="4.0">)</tspan></text>
<text transform="translate(296.2,92.5) rotate(-90)" font-size="11" text-anchor="middle" fill="#141414" font-weight="bold" stroke="#141414" stroke-width="0.35">mean ± SEM</text>
<text transform="translate(420.5,200.1)" font-size="11" text-anchor="middle" fill="#141414" font-weight="bold" stroke="#141414" stroke-width="0.35">Days after treatment</text>
<text transform="translate(513.4,162.8)" font-size="13.5" text-anchor="start" fill="#141414" font-weight="bold" stroke="#141414" stroke-width="0.3">*</text>
<path d="M333.6,149.31 C335.43,149.15 340.57,148.63 344.58,148.33 C348.58,148.03 353.15,147.21 357.61,147.51 C362.07,147.81 367.33,148.96 371.33,150.12 C375.33,151.29 377.62,153.53 381.62,154.53 C385.62,155.54 391.22,155.67 395.34,156.16 C399.46,156.65 402.26,157.1 406.32,157.47 C410.37,157.84 415.92,158.1 419.69,158.37 C423.47,158.64 425.18,158.79 428.95,159.1 C432.73,159.41 437.93,159.88 442.33,160.24 C446.73,160.61 451.31,161.2 455.37,161.31 C459.42,161.41 462.97,161.16 466.68,160.9 C470.4,160.64 473.54,159.95 477.66,159.75 C481.78,159.56 486.86,160.14 491.38,159.75 C495.9,159.37 502.53,157.85 504.76,157.47" fill="none" stroke="#d49a9a" stroke-width="1.1" stroke-dasharray="1.2,2.1"/>
<line x1="504.76" y1="152.98" x2="504.76" y2="153.47" stroke="#a82a2a" stroke-width="1.2"/>
<line x1="504.76" y1="161.47" x2="504.76" y2="161.96" stroke="#a82a2a" stroke-width="1.2"/>
<line x1="500.76" y1="152.98" x2="508.76" y2="152.98" stroke="#a82a2a" stroke-width="1.2"/>
<line x1="500.76" y1="161.96" x2="508.76" y2="161.96" stroke="#a82a2a" stroke-width="1.2"/>
<circle cx="333.6" cy="149.31" r="3.75" fill="none" stroke="#d49a9a" stroke-width="1.1"/>
<rect x="333.1" y="148.81" width="1" height="1" fill="#d49a9a"/>
<circle cx="344.58" cy="148.33" r="3.75" fill="none" stroke="#d49a9a" stroke-width="1.1"/>
<rect x="344.08" y="147.83" width="1" height="1" fill="#d49a9a"/>
<circle cx="357.61" cy="147.51" r="3.75" fill="none" stroke="#d49a9a" stroke-width="1.1"/>
<rect x="357.11" y="147.01" width="1" height="1" fill="#d49a9a"/>
<circle cx="371.33" cy="150.12" r="3.75" fill="none" stroke="#d49a9a" stroke-width="1.1"/>
<rect x="370.83" y="149.62" width="1" height="1" fill="#d49a9a"/>
<circle cx="381.62" cy="154.53" r="3.75" fill="none" stroke="#d49a9a" stroke-width="1.1"/>
<rect x="381.12" y="154.03" width="1" height="1" fill="#d49a9a"/>
<circle cx="395.34" cy="156.16" r="3.75" fill="none" stroke="#d49a9a" stroke-width="1.1"/>
<rect x="394.84" y="155.66" width="1" height="1" fill="#d49a9a"/>
<circle cx="406.32" cy="157.47" r="3.75" fill="none" stroke="#d49a9a" stroke-width="1.1"/>
<rect x="405.82" y="156.97" width="1" height="1" fill="#d49a9a"/>
<circle cx="419.69" cy="158.37" r="3.75" fill="none" stroke="#d49a9a" stroke-width="1.1"/>
<rect x="419.19" y="157.87" width="1" height="1" fill="#d49a9a"/>
<circle cx="428.95" cy="159.1" r="3.75" fill="none" stroke="#d49a9a" stroke-width="1.1"/>
<rect x="428.45" y="158.6" width="1" height="1" fill="#d49a9a"/>
<circle cx="442.33" cy="160.24" r="3.75" fill="none" stroke="#d49a9a" stroke-width="1.1"/>
<rect x="441.83" y="159.74" width="1" height="1" fill="#d49a9a"/>
<circle cx="455.37" cy="161.31" r="3.75" fill="none" stroke="#d49a9a" stroke-width="1.1"/>
<rect x="454.87" y="160.81" width="1" height="1" fill="#d49a9a"/>
<circle cx="466.68" cy="160.9" r="3.75" fill="none" stroke="#d49a9a" stroke-width="1.1"/>
<rect x="466.18" y="160.4" width="1" height="1" fill="#d49a9a"/>
<circle cx="477.66" cy="159.75" r="3.75" fill="none" stroke="#d49a9a" stroke-width="1.1"/>
<rect x="477.16" y="159.25" width="1" height="1" fill="#d49a9a"/>
<circle cx="491.38" cy="159.75" r="3.75" fill="none" stroke="#d49a9a" stroke-width="1.1"/>
<rect x="490.88" y="159.25" width="1" height="1" fill="#d49a9a"/>
<circle cx="504.76" cy="157.47" r="3.75" fill="none" stroke="#d49a9a" stroke-width="1.1"/>
<rect x="504.26" y="156.97" width="1" height="1" fill="#d49a9a"/>
<path d="M333.6,149.31 C335.43,148.74 340.17,146.72 344.58,145.88 C348.98,145.04 355.55,144.66 360.01,144.25 C364.47,143.84 367.61,143.7 371.33,143.43 C375.05,143.16 378.3,143.2 382.31,142.62 C386.31,142.03 391.45,140.67 395.34,139.92 C399.23,139.18 401.63,138.79 405.63,138.13 C409.63,137.46 415.35,136.88 419.35,135.92 C423.35,134.97 425.64,134.36 429.64,132.42 C433.64,130.47 438.79,126.2 443.36,124.25 C447.93,122.31 453.08,122.46 457.08,120.74 C461.08,119.03 463.94,116.07 467.37,113.97 C470.8,111.88 473.66,111.02 477.66,108.18 C481.66,105.33 486.92,101.35 491.38,96.91 C495.84,92.48 502.24,84.13 504.41,81.57" fill="none" stroke="#8a92d2" stroke-width="1.1" stroke-dasharray="1.2,2.1"/>
<line x1="443.36" y1="119.44" x2="443.36" y2="120.25" stroke="#2b2bab" stroke-width="1.2"/>
<line x1="443.36" y1="128.25" x2="443.36" y2="129.07" stroke="#2b2bab" stroke-width="1.2"/>
<line x1="439.36" y1="119.44" x2="447.36" y2="119.44" stroke="#2b2bab" stroke-width="1.2"/>
<line x1="439.36" y1="129.07" x2="447.36" y2="129.07" stroke="#2b2bab" stroke-width="1.2"/>
<line x1="457.08" y1="116.26" x2="457.08" y2="116.74" stroke="#2b2bab" stroke-width="1.2"/>
<line x1="457.08" y1="124.74" x2="457.08" y2="125.23" stroke="#2b2bab" stroke-width="1.2"/>
<line x1="453.08" y1="116.26" x2="461.08" y2="116.26" stroke="#2b2bab" stroke-width="1.2"/>
<line x1="453.08" y1="125.23" x2="461.08" y2="125.23" stroke="#2b2bab" stroke-width="1.2"/>
<line x1="467.37" y1="108.18" x2="467.37" y2="109.97" stroke="#2b2bab" stroke-width="1.2"/>
<line x1="467.37" y1="117.97" x2="467.37" y2="119.77" stroke="#2b2bab" stroke-width="1.2"/>
<line x1="463.37" y1="108.18" x2="471.37" y2="108.18" stroke="#2b2bab" stroke-width="1.2"/>
<line x1="463.37" y1="119.77" x2="471.37" y2="119.77" stroke="#2b2bab" stroke-width="1.2"/>
<line x1="477.66" y1="102.46" x2="477.66" y2="104.18" stroke="#2b2bab" stroke-width="1.2"/>
<line x1="477.66" y1="112.18" x2="477.66" y2="113.89" stroke="#2b2bab" stroke-width="1.2"/>
<line x1="473.66" y1="102.46" x2="481.66" y2="102.46" stroke="#2b2bab" stroke-width="1.2"/>
<line x1="473.66" y1="113.89" x2="481.66" y2="113.89" stroke="#2b2bab" stroke-width="1.2"/>
<line x1="491.38" y1="90.55" x2="491.38" y2="92.91" stroke="#2b2bab" stroke-width="1.2"/>
<line x1="491.38" y1="100.91" x2="491.38" y2="103.28" stroke="#2b2bab" stroke-width="1.2"/>
<line x1="487.38" y1="90.55" x2="495.38" y2="90.55" stroke="#2b2bab" stroke-width="1.2"/>
<line x1="487.38" y1="103.28" x2="495.38" y2="103.28" stroke="#2b2bab" stroke-width="1.2"/>
<line x1="504.41" y1="74.39" x2="504.41" y2="77.57" stroke="#2b2bab" stroke-width="1.2"/>
<line x1="504.41" y1="85.57" x2="504.41" y2="88.75" stroke="#2b2bab" stroke-width="1.2"/>
<line x1="500.41" y1="74.39" x2="508.41" y2="74.39" stroke="#2b2bab" stroke-width="1.2"/>
<line x1="500.41" y1="88.75" x2="508.41" y2="88.75" stroke="#2b2bab" stroke-width="1.2"/>
<path d="M333.6,145.61 L337.49,152.27 L329.72,152.27 Z" fill="none" stroke="#8a92d2" stroke-width="1.2" stroke-linejoin="miter"/>
<rect x="333.1" y="148.81" width="1" height="1" fill="#8a92d2"/>
<path d="M344.58,142.18 L348.46,148.84 L340.69,148.84 Z" fill="none" stroke="#8a92d2" stroke-width="1.2" stroke-linejoin="miter"/>
<rect x="344.08" y="145.38" width="1" height="1" fill="#8a92d2"/>
<path d="M360.01,140.55 L363.9,147.21 L356.13,147.21 Z" fill="none" stroke="#8a92d2" stroke-width="1.2" stroke-linejoin="miter"/>
<rect x="359.51" y="143.75" width="1" height="1" fill="#8a92d2"/>
<path d="M371.33,139.73 L375.22,146.39 L367.45,146.39 Z" fill="none" stroke="#8a92d2" stroke-width="1.2" stroke-linejoin="miter"/>
<rect x="370.83" y="142.93" width="1" height="1" fill="#8a92d2"/>
<path d="M382.31,138.92 L386.19,145.58 L378.42,145.58 Z" fill="none" stroke="#8a92d2" stroke-width="1.2" stroke-linejoin="miter"/>
<rect x="381.81" y="142.12" width="1" height="1" fill="#8a92d2"/>
<path d="M395.34,136.22 L399.23,142.88 L391.46,142.88 Z" fill="none" stroke="#8a92d2" stroke-width="1.2" stroke-linejoin="miter"/>
<rect x="394.84" y="139.42" width="1" height="1" fill="#8a92d2"/>
<path d="M405.63,134.43 L409.51,141.09 L401.75,141.09 Z" fill="none" stroke="#8a92d2" stroke-width="1.2" stroke-linejoin="miter"/>
<rect x="405.13" y="137.63" width="1" height="1" fill="#8a92d2"/>
<path d="M419.35,132.22 L423.24,138.88 L415.47,138.88 Z" fill="none" stroke="#8a92d2" stroke-width="1.2" stroke-linejoin="miter"/>
<rect x="418.85" y="135.42" width="1" height="1" fill="#8a92d2"/>
<path d="M429.64,128.72 L433.53,135.38 L425.76,135.38 Z" fill="none" stroke="#8a92d2" stroke-width="1.2" stroke-linejoin="miter"/>
<rect x="429.14" y="131.92" width="1" height="1" fill="#8a92d2"/>
<path d="M443.36,120.55 L447.25,127.21 L439.48,127.21 Z" fill="none" stroke="#8a92d2" stroke-width="1.2" stroke-linejoin="miter"/>
<rect x="442.86" y="123.75" width="1" height="1" fill="#8a92d2"/>
<path d="M457.08,117.04 L460.97,123.7 L453.2,123.7 Z" fill="none" stroke="#8a92d2" stroke-width="1.2" stroke-linejoin="miter"/>
<rect x="456.58" y="120.24" width="1" height="1" fill="#8a92d2"/>
<path d="M467.37,110.27 L471.25,116.93 L463.49,116.93 Z" fill="none" stroke="#8a92d2" stroke-width="1.2" stroke-linejoin="miter"/>
<rect x="466.87" y="113.47" width="1" height="1" fill="#8a92d2"/>
<path d="M477.66,104.48 L481.55,111.14 L473.78,111.14 Z" fill="none" stroke="#8a92d2" stroke-width="1.2" stroke-linejoin="miter"/>
<rect x="477.16" y="107.68" width="1" height="1" fill="#8a92d2"/>
<path d="M491.38,93.21 L495.26,99.87 L487.5,99.87 Z" fill="none" stroke="#8a92d2" stroke-width="1.2" stroke-linejoin="miter"/>
<rect x="490.88" y="96.41" width="1" height="1" fill="#8a92d2"/>
<path d="M504.41,77.87 L508.3,84.53 L500.53,84.53 Z" fill="none" stroke="#8a92d2" stroke-width="1.2" stroke-linejoin="miter"/>
<rect x="503.91" y="81.07" width="1" height="1" fill="#8a92d2"/>
<path d="M333.6,149.31 C335.43,148.19 340.17,145.02 344.58,142.62 C348.98,140.21 355.55,136.31 360.01,134.86 C364.47,133.42 367.61,134.73 371.33,133.97 C375.05,133.2 378.42,131.99 382.31,130.29 C386.19,128.59 390.77,126.42 394.65,123.76 C398.54,121.11 401.91,117.41 405.63,114.38 C409.35,111.35 412.66,108.75 416.95,105.57 C421.24,102.38 426.95,99 431.36,95.28 C435.76,91.57 439.07,86.7 443.36,83.29 C447.65,79.87 453.08,78.21 457.08,74.8 C461.08,71.38 463.94,67.07 467.37,62.8 C470.8,58.53 475.95,51.44 477.66,49.17" fill="none" stroke="#858585" stroke-width="1.1" stroke-dasharray="1.2,2.1"/>
<line x1="431.36" y1="91.28" x2="431.36" y2="91.58" stroke="#1e1e1e" stroke-width="1.2"/>
<line x1="431.36" y1="98.98" x2="431.36" y2="99.28" stroke="#1e1e1e" stroke-width="1.2"/>
<line x1="427.36" y1="91.28" x2="435.36" y2="91.28" stroke="#1e1e1e" stroke-width="1.2"/>
<line x1="427.36" y1="99.28" x2="435.36" y2="99.28" stroke="#1e1e1e" stroke-width="1.2"/>
<line x1="443.36" y1="78.8" x2="443.36" y2="79.59" stroke="#1e1e1e" stroke-width="1.2"/>
<line x1="443.36" y1="86.99" x2="443.36" y2="87.77" stroke="#1e1e1e" stroke-width="1.2"/>
<line x1="439.36" y1="78.8" x2="447.36" y2="78.8" stroke="#1e1e1e" stroke-width="1.2"/>
<line x1="439.36" y1="87.77" x2="447.36" y2="87.77" stroke="#1e1e1e" stroke-width="1.2"/>
<line x1="457.08" y1="67.78" x2="457.08" y2="71.1" stroke="#1e1e1e" stroke-width="1.2"/>
<line x1="457.08" y1="78.5" x2="457.08" y2="81.82" stroke="#1e1e1e" stroke-width="1.2"/>
<line x1="453.08" y1="67.78" x2="461.08" y2="67.78" stroke="#1e1e1e" stroke-width="1.2"/>
<line x1="453.08" y1="81.82" x2="461.08" y2="81.82" stroke="#1e1e1e" stroke-width="1.2"/>
<line x1="467.37" y1="53.33" x2="467.37" y2="59.1" stroke="#1e1e1e" stroke-width="1.2"/>
<line x1="467.37" y1="66.5" x2="467.37" y2="72.27" stroke="#1e1e1e" stroke-width="1.2"/>
<line x1="463.37" y1="53.33" x2="471.37" y2="53.33" stroke="#1e1e1e" stroke-width="1.2"/>
<line x1="463.37" y1="72.27" x2="471.37" y2="72.27" stroke="#1e1e1e" stroke-width="1.2"/>
<line x1="477.66" y1="38.4" x2="477.66" y2="45.47" stroke="#1e1e1e" stroke-width="1.2"/>
<line x1="477.66" y1="52.87" x2="477.66" y2="59.94" stroke="#1e1e1e" stroke-width="1.2"/>
<line x1="473.66" y1="38.4" x2="481.66" y2="38.4" stroke="#1e1e1e" stroke-width="1.2"/>
<line x1="473.66" y1="59.94" x2="481.66" y2="59.94" stroke="#1e1e1e" stroke-width="1.2"/>
<rect x="330" y="146.18" width="7.21" height="6.26" fill="none" stroke="#858585" stroke-width="1.2"/>
<rect x="333.1" y="148.81" width="1" height="1" fill="#858585"/>
<rect x="340.97" y="139.49" width="7.21" height="6.26" fill="none" stroke="#858585" stroke-width="1.2"/>
<rect x="344.08" y="142.12" width="1" height="1" fill="#858585"/>
<rect x="356.41" y="131.74" width="7.21" height="6.26" fill="none" stroke="#858585" stroke-width="1.2"/>
<rect x="359.51" y="134.36" width="1" height="1" fill="#858585"/>
<rect x="367.73" y="130.84" width="7.21" height="6.26" fill="none" stroke="#858585" stroke-width="1.2"/>
<rect x="370.83" y="133.47" width="1" height="1" fill="#858585"/>
<rect x="378.7" y="127.17" width="7.21" height="6.26" fill="none" stroke="#858585" stroke-width="1.2"/>
<rect x="381.81" y="129.79" width="1" height="1" fill="#858585"/>
<rect x="391.05" y="120.64" width="7.21" height="6.26" fill="none" stroke="#858585" stroke-width="1.2"/>
<rect x="394.15" y="123.26" width="1" height="1" fill="#858585"/>
<rect x="402.03" y="111.25" width="7.21" height="6.26" fill="none" stroke="#858585" stroke-width="1.2"/>
<rect x="405.13" y="113.88" width="1" height="1" fill="#858585"/>
<rect x="413.35" y="102.44" width="7.21" height="6.26" fill="none" stroke="#858585" stroke-width="1.2"/>
<rect x="416.45" y="105.07" width="1" height="1" fill="#858585"/>
<rect x="427.75" y="92.15" width="7.21" height="6.26" fill="none" stroke="#858585" stroke-width="1.2"/>
<rect x="430.86" y="94.78" width="1" height="1" fill="#858585"/>
<rect x="439.76" y="80.16" width="7.21" height="6.26" fill="none" stroke="#858585" stroke-width="1.2"/>
<rect x="442.86" y="82.79" width="1" height="1" fill="#858585"/>
<rect x="453.48" y="71.67" width="7.21" height="6.26" fill="none" stroke="#858585" stroke-width="1.2"/>
<rect x="456.58" y="74.3" width="1" height="1" fill="#858585"/>
<rect x="463.77" y="59.67" width="7.21" height="6.26" fill="none" stroke="#858585" stroke-width="1.2"/>
<rect x="466.87" y="62.3" width="1" height="1" fill="#858585"/>
<rect x="474.06" y="46.04" width="7.21" height="6.26" fill="none" stroke="#858585" stroke-width="1.2"/>
<rect x="477.16" y="48.67" width="1" height="1" fill="#858585"/>
<path d="M333.6,149.31 C335.43,147.89 341.03,143.66 344.58,140.82 C348.12,137.98 350.98,134.95 354.87,132.25 C358.75,129.56 363.96,127.56 367.9,124.66 C371.84,121.77 374.65,118.95 378.53,114.87 C382.42,110.79 387.17,106.91 391.22,100.18 C395.28,93.45 398.71,83.72 402.89,74.47 C407.06,65.22 414.03,49.65 416.26,44.68" fill="none" stroke="#1e1e1e" stroke-width="1.2"/>
<line x1="391.22" y1="95.2" x2="391.22" y2="96.33" stroke="#1e1e1e" stroke-width="1.2"/>
<line x1="391.22" y1="104.03" x2="391.22" y2="105.16" stroke="#1e1e1e" stroke-width="1.2"/>
<line x1="387.22" y1="95.2" x2="395.22" y2="95.2" stroke="#1e1e1e" stroke-width="1.2"/>
<line x1="387.22" y1="105.16" x2="395.22" y2="105.16" stroke="#1e1e1e" stroke-width="1.2"/>
<line x1="402.89" y1="66.47" x2="402.89" y2="70.62" stroke="#1e1e1e" stroke-width="1.2"/>
<line x1="402.89" y1="78.32" x2="402.89" y2="82.47" stroke="#1e1e1e" stroke-width="1.2"/>
<line x1="398.89" y1="66.47" x2="406.89" y2="66.47" stroke="#1e1e1e" stroke-width="1.2"/>
<line x1="398.89" y1="82.47" x2="406.89" y2="82.47" stroke="#1e1e1e" stroke-width="1.2"/>
<line x1="416.26" y1="33.91" x2="416.26" y2="40.83" stroke="#1e1e1e" stroke-width="1.2"/>
<line x1="416.26" y1="48.53" x2="416.26" y2="55.46" stroke="#1e1e1e" stroke-width="1.2"/>
<line x1="412.26" y1="33.91" x2="420.26" y2="33.91" stroke="#1e1e1e" stroke-width="1.2"/>
<line x1="412.26" y1="55.46" x2="420.26" y2="55.46" stroke="#1e1e1e" stroke-width="1.2"/>
<rect x="329.94" y="146.13" width="7.31" height="6.35" fill="none" stroke="#1e1e1e" stroke-width="1.4"/>
<rect x="340.92" y="137.65" width="7.31" height="6.35" fill="none" stroke="#1e1e1e" stroke-width="1.4"/>
<rect x="351.21" y="129.08" width="7.31" height="6.35" fill="none" stroke="#1e1e1e" stroke-width="1.4"/>
<rect x="364.24" y="121.49" width="7.31" height="6.35" fill="none" stroke="#1e1e1e" stroke-width="1.4"/>
<rect x="374.88" y="111.69" width="7.31" height="6.35" fill="none" stroke="#1e1e1e" stroke-width="1.4"/>
<rect x="387.57" y="97" width="7.31" height="6.35" fill="none" stroke="#1e1e1e" stroke-width="1.4"/>
<rect x="399.23" y="71.3" width="7.31" height="6.35" fill="none" stroke="#1e1e1e" stroke-width="1.4"/>
<rect x="412.61" y="41.51" width="7.31" height="6.35" fill="none" stroke="#1e1e1e" stroke-width="1.4"/>
<path d="M333.6,149.31 C335.43,149.19 341.03,149.15 344.58,148.57 C348.12,148 350.98,146.47 354.87,145.88 C358.75,145.3 363.96,145.47 367.9,145.06 C371.84,144.66 374.53,145.7 378.53,143.43 C382.53,141.16 387.97,135.34 391.91,131.44 C395.85,127.53 398.37,124.01 402.2,120.01 C406.03,116.01 410.89,112.88 414.89,107.44 C418.89,102 421.98,98.52 426.21,87.37 C430.44,76.21 437.93,48.33 440.27,40.52" fill="none" stroke="#a82a2a" stroke-width="1.2"/>
<circle cx="333.6" cy="149.31" r="3.45" fill="none" stroke="#a82a2a" stroke-width="1.4"/>
<circle cx="344.58" cy="148.57" r="3.45" fill="none" stroke="#a82a2a" stroke-width="1.4"/>
<circle cx="354.87" cy="145.88" r="3.45" fill="none" stroke="#a82a2a" stroke-width="1.4"/>
<circle cx="367.9" cy="145.06" r="3.45" fill="none" stroke="#a82a2a" stroke-width="1.4"/>
<circle cx="378.53" cy="143.43" r="3.45" fill="none" stroke="#a82a2a" stroke-width="1.4"/>
<circle cx="391.91" cy="131.44" r="3.45" fill="none" stroke="#a82a2a" stroke-width="1.4"/>
<circle cx="402.2" cy="120.01" r="3.45" fill="none" stroke="#a82a2a" stroke-width="1.4"/>
<circle cx="414.89" cy="107.44" r="3.45" fill="none" stroke="#a82a2a" stroke-width="1.4"/>
<circle cx="426.21" cy="87.37" r="3.45" fill="none" stroke="#a82a2a" stroke-width="1.4"/>
<circle cx="440.27" cy="40.52" r="3.45" fill="none" stroke="#a82a2a" stroke-width="1.4"/>
<path d="M333.6,149.31 C335.43,148.52 341.03,145.55 344.58,144.58 C348.12,143.6 350.98,143.62 354.87,143.43 C358.75,143.24 363.96,143.64 367.9,143.43 C371.84,143.23 374.53,143.79 378.53,142.21 C382.53,140.63 387.85,136.75 391.91,133.97 C395.97,131.18 398.71,129.9 402.89,125.48 C407.06,121.06 412.78,112.37 416.95,107.44 C421.12,102.52 424.15,101.73 427.93,95.94 C431.7,90.14 437.64,76.55 439.59,72.68" fill="none" stroke="#2b2bab" stroke-width="1.3"/>
<line x1="427.93" y1="90.96" x2="427.93" y2="91.94" stroke="#2b2bab" stroke-width="1.2"/>
<line x1="427.93" y1="99.94" x2="427.93" y2="100.91" stroke="#2b2bab" stroke-width="1.2"/>
<line x1="423.93" y1="90.96" x2="431.93" y2="90.96" stroke="#2b2bab" stroke-width="1.2"/>
<line x1="423.93" y1="100.91" x2="431.93" y2="100.91" stroke="#2b2bab" stroke-width="1.2"/>
<line x1="439.59" y1="63.21" x2="439.59" y2="68.68" stroke="#2b2bab" stroke-width="1.2"/>
<line x1="439.59" y1="76.68" x2="439.59" y2="82.14" stroke="#2b2bab" stroke-width="1.2"/>
<line x1="435.59" y1="63.21" x2="443.59" y2="63.21" stroke="#2b2bab" stroke-width="1.2"/>
<line x1="435.59" y1="82.14" x2="443.59" y2="82.14" stroke="#2b2bab" stroke-width="1.2"/>
<path d="M333.6,145.71 L337.38,152.19 L329.82,152.19 Z" fill="none" stroke="#2b2bab" stroke-width="1.4" stroke-linejoin="miter"/>
<path d="M344.58,140.98 L348.36,147.46 L340.8,147.46 Z" fill="none" stroke="#2b2bab" stroke-width="1.4" stroke-linejoin="miter"/>
<path d="M354.87,139.83 L358.65,146.31 L351.09,146.31 Z" fill="none" stroke="#2b2bab" stroke-width="1.4" stroke-linejoin="miter"/>
<path d="M367.9,139.83 L371.68,146.31 L364.12,146.31 Z" fill="none" stroke="#2b2bab" stroke-width="1.4" stroke-linejoin="miter"/>
<path d="M378.53,138.61 L382.31,145.09 L374.75,145.09 Z" fill="none" stroke="#2b2bab" stroke-width="1.4" stroke-linejoin="miter"/>
<path d="M391.91,130.37 L395.69,136.85 L388.13,136.85 Z" fill="none" stroke="#2b2bab" stroke-width="1.4" stroke-linejoin="miter"/>
<path d="M402.89,121.88 L406.67,128.36 L399.11,128.36 Z" fill="none" stroke="#2b2bab" stroke-width="1.4" stroke-linejoin="miter"/>
<path d="M416.95,103.84 L420.73,110.32 L413.17,110.32 Z" fill="none" stroke="#2b2bab" stroke-width="1.4" stroke-linejoin="miter"/>
<path d="M427.93,92.34 L431.7,98.82 L424.15,98.82 Z" fill="none" stroke="#2b2bab" stroke-width="1.4" stroke-linejoin="miter"/>
<path d="M439.59,69.08 L443.37,75.56 L435.81,75.56 Z" fill="none" stroke="#2b2bab" stroke-width="1.4" stroke-linejoin="miter"/>
<text transform="translate(0.5,225.5)" font-size="14.3" text-anchor="start" fill="#141414" font-weight="bold" stroke="#141414" stroke-width="0.35">C</text>
<line x1="53.5" y1="232.6" x2="53.5" y2="378.8" stroke="#111" stroke-width="1.4"/>
<line x1="49.3" y1="374.6" x2="229.92" y2="374.6" stroke="#111" stroke-width="1.4"/>
<line x1="48.5" y1="374.6" x2="53.5" y2="374.6" stroke="#111" stroke-width="1.4"/>
<text transform="translate(47.6,377.8)" font-size="9.3" text-anchor="end" fill="#141414" font-weight="bold" stroke="#141414" stroke-width="0.2">0</text>
<line x1="48.5" y1="339.28" x2="53.5" y2="339.28" stroke="#111" stroke-width="1.4"/>
<text transform="translate(47.6,342.48)" font-size="9.3" text-anchor="end" fill="#141414" font-weight="bold" stroke="#141414" stroke-width="0.2">300</text>
<line x1="48.5" y1="303.95" x2="53.5" y2="303.95" stroke="#111" stroke-width="1.4"/>
<text transform="translate(47.6,307.15)" font-size="9.3" text-anchor="end" fill="#141414" font-weight="bold" stroke="#141414" stroke-width="0.2">600</text>
<line x1="48.5" y1="268.62" x2="53.5" y2="268.62" stroke="#111" stroke-width="1.4"/>
<text transform="translate(47.6,271.82)" font-size="9.3" text-anchor="end" fill="#141414" font-weight="bold" stroke="#141414" stroke-width="0.2">900</text>
<line x1="48.5" y1="233.3" x2="53.5" y2="233.3" stroke="#111" stroke-width="1.4"/>
<text transform="translate(47.6,236.5)" font-size="9.3" text-anchor="end" fill="#141414" font-weight="bold" stroke="#141414" stroke-width="0.2">1,200</text>
<line x1="61.31" y1="374.6" x2="61.31" y2="377.6" stroke="#111" stroke-width="1.4"/>
<line x1="69.12" y1="374.6" x2="69.12" y2="377.6" stroke="#111" stroke-width="1.4"/>
<line x1="76.93" y1="374.6" x2="76.93" y2="377.6" stroke="#111" stroke-width="1.4"/>
<line x1="84.74" y1="374.6" x2="84.74" y2="377.6" stroke="#111" stroke-width="1.4"/>
<line x1="92.55" y1="374.6" x2="92.55" y2="377.6" stroke="#111" stroke-width="1.4"/>
<line x1="100.36" y1="374.6" x2="100.36" y2="377.6" stroke="#111" stroke-width="1.4"/>
<line x1="108.17" y1="374.6" x2="108.17" y2="377.6" stroke="#111" stroke-width="1.4"/>
<line x1="115.98" y1="374.6" x2="115.98" y2="377.6" stroke="#111" stroke-width="1.4"/>
<line x1="123.79" y1="374.6" x2="123.79" y2="377.6" stroke="#111" stroke-width="1.4"/>
<line x1="139.41" y1="374.6" x2="139.41" y2="377.6" stroke="#111" stroke-width="1.4"/>
<line x1="147.22" y1="374.6" x2="147.22" y2="377.6" stroke="#111" stroke-width="1.4"/>
<line x1="155.03" y1="374.6" x2="155.03" y2="377.6" stroke="#111" stroke-width="1.4"/>
<line x1="162.84" y1="374.6" x2="162.84" y2="377.6" stroke="#111" stroke-width="1.4"/>
<line x1="170.65" y1="374.6" x2="170.65" y2="377.6" stroke="#111" stroke-width="1.4"/>
<line x1="178.46" y1="374.6" x2="178.46" y2="377.6" stroke="#111" stroke-width="1.4"/>
<line x1="186.27" y1="374.6" x2="186.27" y2="377.6" stroke="#111" stroke-width="1.4"/>
<line x1="194.08" y1="374.6" x2="194.08" y2="377.6" stroke="#111" stroke-width="1.4"/>
<line x1="201.89" y1="374.6" x2="201.89" y2="377.6" stroke="#111" stroke-width="1.4"/>
<line x1="217.51" y1="374.6" x2="217.51" y2="377.6" stroke="#111" stroke-width="1.4"/>
<line x1="225.32" y1="374.6" x2="225.32" y2="377.6" stroke="#111" stroke-width="1.4"/>
<line x1="53.5" y1="374.6" x2="53.5" y2="378.8" stroke="#111" stroke-width="1.4"/>
<text transform="translate(53.5,388.2)" font-size="9.3" text-anchor="middle" fill="#141414" font-weight="bold" stroke="#141414" stroke-width="0.2">0</text>
<line x1="131.6" y1="374.6" x2="131.6" y2="378.8" stroke="#111" stroke-width="1.4"/>
<text transform="translate(131.6,388.2)" font-size="9.3" text-anchor="middle" fill="#141414" font-weight="bold" stroke="#141414" stroke-width="0.2">50</text>
<line x1="209.7" y1="374.6" x2="209.7" y2="378.8" stroke="#111" stroke-width="1.4"/>
<text transform="translate(209.7,388.2)" font-size="9.3" text-anchor="middle" fill="#141414" font-weight="bold" stroke="#141414" stroke-width="0.2">100</text>
<text transform="translate(10,302.4) rotate(-90)" font-size="9.35" text-anchor="middle" fill="#141414" font-weight="bold" stroke="#141414" stroke-width="0.35">Tumor volume (mm<tspan font-size="6.0" dx="0.7" dy="-3.4">3</tspan><tspan dx="0.7" dy="3.4">)</tspan></text>
<text transform="translate(22.2,302.4) rotate(-90)" font-size="9.35" text-anchor="middle" fill="#141414" font-weight="bold" stroke="#141414" stroke-width="0.35">mean ± SEM</text>
<text transform="translate(142.3,402.9)" font-size="9.45" text-anchor="middle" fill="#141414" font-weight="bold" stroke="#141414" stroke-width="0.35">Days after treatment</text>
<text transform="translate(232.4,379.8)" font-size="11" text-anchor="start" fill="#141414" font-weight="bold" stroke="#141414" stroke-width="0.35">*</text>
<path d="M53.5,348.58 C55.41,350.13 62.3,355.74 64.98,357.88 C67.65,360.02 67.75,360.55 69.53,361.41 C71.32,362.28 73.73,362.49 75.67,363.06 C77.6,363.63 79.25,364.32 81.17,364.83 C83.08,365.34 85.36,365.73 87.14,366.12 C88.92,366.51 90.05,366.83 91.86,367.18 C93.66,367.54 96.08,367.91 97.99,368.24 C99.9,368.58 101.52,368.93 103.33,369.18 C105.14,369.44 107.03,369.58 108.83,369.77 C110.64,369.97 112.27,370.18 114.18,370.36 C116.09,370.54 118.4,370.71 120.31,370.83 C122.22,370.95 123.72,370.87 125.65,371.07 C127.59,371.26 129.69,371.75 131.94,372.01 C134.2,372.26 136.84,372.46 139.17,372.6 C141.51,372.74 143.65,372.7 145.93,372.83 C148.21,372.97 149.92,373.32 152.85,373.42 C155.78,373.52 160.19,373.38 163.54,373.42 C166.89,373.47 169.51,373.63 172.97,373.71 C176.43,373.78 180.49,373.86 184.29,373.89 C188.09,373.92 192.05,373.89 195.77,373.89 C199.49,373.89 203,373.89 206.61,373.89 C210.23,373.89 213.71,373.89 217.46,373.89 C221.21,373.89 227.15,373.89 229.09,373.89" fill="none" stroke="#d49a9a" stroke-width="1.0" stroke-dasharray="1.2,2.1"/>
<circle cx="53.5" cy="348.58" r="3.25" fill="none" stroke="#d49a9a" stroke-width="1.1"/>
<rect x="53" y="348.08" width="1" height="1" fill="#d49a9a"/>
<circle cx="64.98" cy="357.88" r="3.25" fill="none" stroke="#d49a9a" stroke-width="1.1"/>
<rect x="64.48" y="357.38" width="1" height="1" fill="#d49a9a"/>
<circle cx="69.53" cy="361.41" r="3.25" fill="none" stroke="#d49a9a" stroke-width="1.1"/>
<rect x="69.03" y="360.91" width="1" height="1" fill="#d49a9a"/>
<circle cx="75.67" cy="363.06" r="3.25" fill="none" stroke="#d49a9a" stroke-width="1.1"/>
<rect x="75.17" y="362.56" width="1" height="1" fill="#d49a9a"/>
<circle cx="81.17" cy="364.83" r="3.25" fill="none" stroke="#d49a9a" stroke-width="1.1"/>
<rect x="80.67" y="364.33" width="1" height="1" fill="#d49a9a"/>
<circle cx="87.14" cy="366.12" r="3.25" fill="none" stroke="#d49a9a" stroke-width="1.1"/>
<rect x="86.64" y="365.62" width="1" height="1" fill="#d49a9a"/>
<circle cx="91.86" cy="367.18" r="3.25" fill="none" stroke="#d49a9a" stroke-width="1.1"/>
<rect x="91.36" y="366.68" width="1" height="1" fill="#d49a9a"/>
<circle cx="97.99" cy="368.24" r="3.25" fill="none" stroke="#d49a9a" stroke-width="1.1"/>
<rect x="97.49" y="367.74" width="1" height="1" fill="#d49a9a"/>
<circle cx="103.33" cy="369.18" r="3.25" fill="none" stroke="#d49a9a" stroke-width="1.1"/>
<rect x="102.83" y="368.68" width="1" height="1" fill="#d49a9a"/>
<circle cx="108.83" cy="369.77" r="3.25" fill="none" stroke="#d49a9a" stroke-width="1.1"/>
<rect x="108.33" y="369.27" width="1" height="1" fill="#d49a9a"/>
<circle cx="114.18" cy="370.36" r="3.25" fill="none" stroke="#d49a9a" stroke-width="1.1"/>
<rect x="113.68" y="369.86" width="1" height="1" fill="#d49a9a"/>
<circle cx="120.31" cy="370.83" r="3.25" fill="none" stroke="#d49a9a" stroke-width="1.1"/>
<rect x="119.81" y="370.33" width="1" height="1" fill="#d49a9a"/>
<circle cx="125.65" cy="371.07" r="3.25" fill="none" stroke="#d49a9a" stroke-width="1.1"/>
<rect x="125.15" y="370.57" width="1" height="1" fill="#d49a9a"/>
<circle cx="131.94" cy="372.01" r="3.25" fill="none" stroke="#d49a9a" stroke-width="1.1"/>
<rect x="131.44" y="371.51" width="1" height="1" fill="#d49a9a"/>
<circle cx="139.17" cy="372.6" r="3.25" fill="none" stroke="#d49a9a" stroke-width="1.1"/>
<rect x="138.67" y="372.1" width="1" height="1" fill="#d49a9a"/>
<circle cx="145.93" cy="372.83" r="3.25" fill="none" stroke="#d49a9a" stroke-width="1.1"/>
<rect x="145.43" y="372.33" width="1" height="1" fill="#d49a9a"/>
<circle cx="152.85" cy="373.42" r="3.25" fill="none" stroke="#d49a9a" stroke-width="1.1"/>
<rect x="152.35" y="372.92" width="1" height="1" fill="#d49a9a"/>
<circle cx="163.54" cy="373.42" r="3.25" fill="none" stroke="#d49a9a" stroke-width="1.1"/>
<rect x="163.04" y="372.92" width="1" height="1" fill="#d49a9a"/>
<circle cx="172.97" cy="373.71" r="3.25" fill="none" stroke="#d49a9a" stroke-width="1.1"/>
<rect x="172.47" y="373.21" width="1" height="1" fill="#d49a9a"/>
<circle cx="184.29" cy="373.89" r="3.25" fill="none" stroke="#d49a9a" stroke-width="1.1"/>
<rect x="183.79" y="373.39" width="1" height="1" fill="#d49a9a"/>
<circle cx="195.77" cy="373.89" r="3.25" fill="none" stroke="#d49a9a" stroke-width="1.1"/>
<rect x="195.27" y="373.39" width="1" height="1" fill="#d49a9a"/>
<circle cx="206.61" cy="373.89" r="3.25" fill="none" stroke="#d49a9a" stroke-width="1.1"/>
<rect x="206.11" y="373.39" width="1" height="1" fill="#d49a9a"/>
<circle cx="217.46" cy="373.89" r="3.25" fill="none" stroke="#d49a9a" stroke-width="1.1"/>
<rect x="216.96" y="373.39" width="1" height="1" fill="#d49a9a"/>
<circle cx="229.09" cy="373.89" r="3.25" fill="none" stroke="#d49a9a" stroke-width="1.1"/>
<rect x="228.59" y="373.39" width="1" height="1" fill="#d49a9a"/>
<path d="M53.5,348.58 C55.41,347.77 62.16,344.65 64.98,343.75 C67.79,342.85 68.59,343.37 70.4,343.17 C72.21,342.98 74.01,342.79 75.82,342.6 C77.63,342.41 79.44,342.23 81.25,342.02 C83.05,341.82 84.86,341.62 86.67,341.37 C88.48,341.13 90.28,340.84 92.09,340.57 C93.9,340.3 95.71,340.04 97.52,339.77 C99.32,339.5 101.13,339.23 102.94,338.96 C104.75,338.7 106.55,338.43 108.36,338.16 C110.17,337.89 111.98,337.63 113.79,337.35 C115.59,337.08 117.4,336.8 119.21,336.53 C121.02,336.25 122.83,335.98 124.63,335.7 C126.44,335.43 128.25,335.16 130.06,334.88 C131.86,334.59 133.67,334.29 135.48,333.99 C137.29,333.69 139.1,333.38 140.9,333.08 C142.71,332.77 144.52,332.47 146.33,332.16 C148.13,331.85 149.94,331.55 151.75,331.24 C153.56,330.94 155.37,330.63 157.17,330.33 C158.98,330.02 159.78,330.1 162.6,329.41 C165.41,328.72 170.38,327.03 174.07,326.2 C177.77,325.38 181.15,325.5 184.76,324.44 C188.38,323.38 192.12,321.12 195.77,319.85 C199.41,318.57 203.02,317.55 206.61,316.78 C210.2,316.02 213.56,316.22 217.3,315.25 C221.05,314.29 227.13,311.72 229.09,311.02" fill="none" stroke="#8a92d2" stroke-width="1.0" stroke-dasharray="1.2,2.1"/>
<path d="M53.5,345.23 L57.02,351.26 L49.98,351.26 Z" fill="none" stroke="#8a92d2" stroke-width="1.1" stroke-linejoin="miter"/>
<rect x="53" y="348.08" width="1" height="1" fill="#8a92d2"/>
<path d="M64.98,340.4 L68.49,346.43 L61.46,346.43 Z" fill="none" stroke="#8a92d2" stroke-width="1.1" stroke-linejoin="miter"/>
<rect x="64.48" y="343.25" width="1" height="1" fill="#8a92d2"/>
<path d="M70.4,339.82 L73.92,345.85 L66.88,345.85 Z" fill="none" stroke="#8a92d2" stroke-width="1.1" stroke-linejoin="miter"/>
<rect x="69.9" y="342.67" width="1" height="1" fill="#8a92d2"/>
<path d="M75.82,339.25 L79.34,345.28 L72.3,345.28 Z" fill="none" stroke="#8a92d2" stroke-width="1.1" stroke-linejoin="miter"/>
<rect x="75.32" y="342.1" width="1" height="1" fill="#8a92d2"/>
<path d="M81.25,338.67 L84.76,344.7 L77.73,344.7 Z" fill="none" stroke="#8a92d2" stroke-width="1.1" stroke-linejoin="miter"/>
<rect x="80.75" y="341.52" width="1" height="1" fill="#8a92d2"/>
<path d="M86.67,338.02 L90.19,344.05 L83.15,344.05 Z" fill="none" stroke="#8a92d2" stroke-width="1.1" stroke-linejoin="miter"/>
<rect x="86.17" y="340.87" width="1" height="1" fill="#8a92d2"/>
<path d="M92.09,337.22 L95.61,343.25 L88.58,343.25 Z" fill="none" stroke="#8a92d2" stroke-width="1.1" stroke-linejoin="miter"/>
<rect x="91.59" y="340.07" width="1" height="1" fill="#8a92d2"/>
<path d="M97.52,336.42 L101.03,342.45 L94,342.45 Z" fill="none" stroke="#8a92d2" stroke-width="1.1" stroke-linejoin="miter"/>
<rect x="97.02" y="339.27" width="1" height="1" fill="#8a92d2"/>
<path d="M102.94,335.61 L106.46,341.64 L99.42,341.64 Z" fill="none" stroke="#8a92d2" stroke-width="1.1" stroke-linejoin="miter"/>
<rect x="102.44" y="338.46" width="1" height="1" fill="#8a92d2"/>
<path d="M108.36,334.81 L111.88,340.84 L104.85,340.84 Z" fill="none" stroke="#8a92d2" stroke-width="1.1" stroke-linejoin="miter"/>
<rect x="107.86" y="337.66" width="1" height="1" fill="#8a92d2"/>
<path d="M113.79,334 L117.3,340.03 L110.27,340.03 Z" fill="none" stroke="#8a92d2" stroke-width="1.1" stroke-linejoin="miter"/>
<rect x="113.29" y="336.85" width="1" height="1" fill="#8a92d2"/>
<path d="M119.21,333.18 L122.73,339.21 L115.69,339.21 Z" fill="none" stroke="#8a92d2" stroke-width="1.1" stroke-linejoin="miter"/>
<rect x="118.71" y="336.03" width="1" height="1" fill="#8a92d2"/>
<path d="M124.63,332.35 L128.15,338.38 L121.12,338.38 Z" fill="none" stroke="#8a92d2" stroke-width="1.1" stroke-linejoin="miter"/>
<rect x="124.13" y="335.2" width="1" height="1" fill="#8a92d2"/>
<path d="M130.06,331.53 L133.57,337.56 L126.54,337.56 Z" fill="none" stroke="#8a92d2" stroke-width="1.1" stroke-linejoin="miter"/>
<rect x="129.56" y="334.38" width="1" height="1" fill="#8a92d2"/>
<path d="M135.48,330.64 L139,336.67 L131.96,336.67 Z" fill="none" stroke="#8a92d2" stroke-width="1.1" stroke-linejoin="miter"/>
<rect x="134.98" y="333.49" width="1" height="1" fill="#8a92d2"/>
<path d="M140.9,329.73 L144.42,335.76 L137.39,335.76 Z" fill="none" stroke="#8a92d2" stroke-width="1.1" stroke-linejoin="miter"/>
<rect x="140.4" y="332.58" width="1" height="1" fill="#8a92d2"/>
<path d="M146.33,328.81 L149.84,334.84 L142.81,334.84 Z" fill="none" stroke="#8a92d2" stroke-width="1.1" stroke-linejoin="miter"/>
<rect x="145.83" y="331.66" width="1" height="1" fill="#8a92d2"/>
<path d="M151.75,327.89 L155.27,333.92 L148.23,333.92 Z" fill="none" stroke="#8a92d2" stroke-width="1.1" stroke-linejoin="miter"/>
<rect x="151.25" y="330.74" width="1" height="1" fill="#8a92d2"/>
<path d="M157.17,326.98 L160.69,333.01 L153.66,333.01 Z" fill="none" stroke="#8a92d2" stroke-width="1.1" stroke-linejoin="miter"/>
<rect x="156.67" y="329.83" width="1" height="1" fill="#8a92d2"/>
<path d="M162.6,326.06 L166.11,332.09 L159.08,332.09 Z" fill="none" stroke="#8a92d2" stroke-width="1.1" stroke-linejoin="miter"/>
<rect x="162.1" y="328.91" width="1" height="1" fill="#8a92d2"/>
<path d="M174.07,322.85 L177.59,328.88 L170.55,328.88 Z" fill="none" stroke="#8a92d2" stroke-width="1.1" stroke-linejoin="miter"/>
<rect x="173.57" y="325.7" width="1" height="1" fill="#8a92d2"/>
<path d="M184.76,321.09 L188.28,327.12 L181.24,327.12 Z" fill="none" stroke="#8a92d2" stroke-width="1.1" stroke-linejoin="miter"/>
<rect x="184.26" y="323.94" width="1" height="1" fill="#8a92d2"/>
<path d="M195.77,316.5 L199.28,322.53 L192.25,322.53 Z" fill="none" stroke="#8a92d2" stroke-width="1.1" stroke-linejoin="miter"/>
<rect x="195.27" y="319.35" width="1" height="1" fill="#8a92d2"/>
<path d="M206.61,313.43 L210.13,319.46 L203.1,319.46 Z" fill="none" stroke="#8a92d2" stroke-width="1.1" stroke-linejoin="miter"/>
<rect x="206.11" y="316.28" width="1" height="1" fill="#8a92d2"/>
<path d="M217.3,311.9 L220.82,317.93 L213.78,317.93 Z" fill="none" stroke="#8a92d2" stroke-width="1.1" stroke-linejoin="miter"/>
<rect x="216.8" y="314.75" width="1" height="1" fill="#8a92d2"/>
<path d="M229.09,307.67 L232.61,313.7 L225.57,313.7 Z" fill="none" stroke="#8a92d2" stroke-width="1.1" stroke-linejoin="miter"/>
<rect x="228.59" y="310.52" width="1" height="1" fill="#8a92d2"/>
<path d="M53.5,348.58 C54.55,347.03 57.61,342.4 59.79,339.28 C61.96,336.15 64.29,332.21 66.55,329.86 C68.8,327.5 70.9,326.32 73.31,325.15 C75.72,323.97 78.55,323.67 81.01,322.79 C83.47,321.91 85.52,320.83 88.08,319.85 C90.65,318.87 94.01,317.82 96.42,316.9 C98.83,315.98 100.61,315.14 102.55,314.31 C104.49,313.49 106,312.94 108.05,311.96 C110.09,310.98 112.63,309.37 114.81,308.42 C116.98,307.48 119.13,307.44 121.1,306.31 C123.06,305.17 124.87,302.77 126.6,301.6 C128.33,300.42 129.82,300.03 131.47,299.24 C133.12,298.45 134.82,297.71 136.5,296.88 C138.18,296.06 139.72,295.12 141.53,294.29 C143.34,293.47 145.38,292.59 147.35,291.94 C149.31,291.29 150.75,290.92 153.32,290.41 C155.89,289.9 159.3,290.06 162.75,288.88 C166.21,287.7 172.19,284.27 174.07,283.34" fill="none" stroke="#5e5e5e" stroke-width="1.0" stroke-dasharray="1.2,2.1"/>
<line x1="81.01" y1="318.79" x2="81.01" y2="319.29" stroke="#1e1e1e" stroke-width="1.2"/>
<line x1="81.01" y1="326.29" x2="81.01" y2="326.79" stroke="#1e1e1e" stroke-width="1.2"/>
<line x1="77.76" y1="318.79" x2="84.26" y2="318.79" stroke="#1e1e1e" stroke-width="1.2"/>
<line x1="77.76" y1="326.79" x2="84.26" y2="326.79" stroke="#1e1e1e" stroke-width="1.2"/>
<line x1="88.08" y1="315.84" x2="88.08" y2="316.35" stroke="#1e1e1e" stroke-width="1.2"/>
<line x1="88.08" y1="323.35" x2="88.08" y2="323.85" stroke="#1e1e1e" stroke-width="1.2"/>
<line x1="84.83" y1="315.84" x2="91.33" y2="315.84" stroke="#1e1e1e" stroke-width="1.2"/>
<line x1="84.83" y1="323.85" x2="91.33" y2="323.85" stroke="#1e1e1e" stroke-width="1.2"/>
<line x1="96.42" y1="312.9" x2="96.42" y2="313.4" stroke="#1e1e1e" stroke-width="1.2"/>
<line x1="96.42" y1="320.4" x2="96.42" y2="320.91" stroke="#1e1e1e" stroke-width="1.2"/>
<line x1="93.17" y1="312.9" x2="99.67" y2="312.9" stroke="#1e1e1e" stroke-width="1.2"/>
<line x1="93.17" y1="320.91" x2="99.67" y2="320.91" stroke="#1e1e1e" stroke-width="1.2"/>
<line x1="102.55" y1="310.31" x2="102.55" y2="310.81" stroke="#1e1e1e" stroke-width="1.2"/>
<line x1="102.55" y1="317.81" x2="102.55" y2="318.32" stroke="#1e1e1e" stroke-width="1.2"/>
<line x1="99.3" y1="310.31" x2="105.8" y2="310.31" stroke="#1e1e1e" stroke-width="1.2"/>
<line x1="99.3" y1="318.32" x2="105.8" y2="318.32" stroke="#1e1e1e" stroke-width="1.2"/>
<line x1="108.05" y1="307.95" x2="108.05" y2="308.46" stroke="#1e1e1e" stroke-width="1.2"/>
<line x1="108.05" y1="315.46" x2="108.05" y2="315.96" stroke="#1e1e1e" stroke-width="1.2"/>
<line x1="104.8" y1="307.95" x2="111.3" y2="307.95" stroke="#1e1e1e" stroke-width="1.2"/>
<line x1="104.8" y1="315.96" x2="111.3" y2="315.96" stroke="#1e1e1e" stroke-width="1.2"/>
<line x1="114.81" y1="304.42" x2="114.81" y2="304.92" stroke="#1e1e1e" stroke-width="1.2"/>
<line x1="114.81" y1="311.92" x2="114.81" y2="312.43" stroke="#1e1e1e" stroke-width="1.2"/>
<line x1="111.56" y1="304.42" x2="118.06" y2="304.42" stroke="#1e1e1e" stroke-width="1.2"/>
<line x1="111.56" y1="312.43" x2="118.06" y2="312.43" stroke="#1e1e1e" stroke-width="1.2"/>
<line x1="121.1" y1="302.3" x2="121.1" y2="302.81" stroke="#1e1e1e" stroke-width="1.2"/>
<line x1="121.1" y1="309.81" x2="121.1" y2="310.31" stroke="#1e1e1e" stroke-width="1.2"/>
<line x1="117.85" y1="302.3" x2="124.35" y2="302.3" stroke="#1e1e1e" stroke-width="1.2"/>
<line x1="117.85" y1="310.31" x2="124.35" y2="310.31" stroke="#1e1e1e" stroke-width="1.2"/>
<line x1="126.6" y1="297.59" x2="126.6" y2="298.1" stroke="#1e1e1e" stroke-width="1.2"/>
<line x1="126.6" y1="305.1" x2="126.6" y2="305.6" stroke="#1e1e1e" stroke-width="1.2"/>
<line x1="123.35" y1="297.59" x2="129.85" y2="297.59" stroke="#1e1e1e" stroke-width="1.2"/>
<line x1="123.35" y1="305.6" x2="129.85" y2="305.6" stroke="#1e1e1e" stroke-width="1.2"/>
<line x1="131.47" y1="295.24" x2="131.47" y2="295.74" stroke="#1e1e1e" stroke-width="1.2"/>
<line x1="131.47" y1="302.74" x2="131.47" y2="303.24" stroke="#1e1e1e" stroke-width="1.2"/>
<line x1="128.22" y1="295.24" x2="134.72" y2="295.24" stroke="#1e1e1e" stroke-width="1.2"/>
<line x1="128.22" y1="303.24" x2="134.72" y2="303.24" stroke="#1e1e1e" stroke-width="1.2"/>
<line x1="136.5" y1="292.88" x2="136.5" y2="293.38" stroke="#1e1e1e" stroke-width="1.2"/>
<line x1="136.5" y1="300.38" x2="136.5" y2="300.89" stroke="#1e1e1e" stroke-width="1.2"/>
<line x1="133.25" y1="292.88" x2="139.75" y2="292.88" stroke="#1e1e1e" stroke-width="1.2"/>
<line x1="133.25" y1="300.89" x2="139.75" y2="300.89" stroke="#1e1e1e" stroke-width="1.2"/>
<line x1="141.53" y1="290.29" x2="141.53" y2="290.79" stroke="#1e1e1e" stroke-width="1.2"/>
<line x1="141.53" y1="297.79" x2="141.53" y2="298.3" stroke="#1e1e1e" stroke-width="1.2"/>
<line x1="138.28" y1="290.29" x2="144.78" y2="290.29" stroke="#1e1e1e" stroke-width="1.2"/>
<line x1="138.28" y1="298.3" x2="144.78" y2="298.3" stroke="#1e1e1e" stroke-width="1.2"/>
<line x1="147.35" y1="287.94" x2="147.35" y2="288.44" stroke="#1e1e1e" stroke-width="1.2"/>
<line x1="147.35" y1="295.44" x2="147.35" y2="295.94" stroke="#1e1e1e" stroke-width="1.2"/>
<line x1="144.1" y1="287.94" x2="150.6" y2="287.94" stroke="#1e1e1e" stroke-width="1.2"/>
<line x1="144.1" y1="295.94" x2="150.6" y2="295.94" stroke="#1e1e1e" stroke-width="1.2"/>
<line x1="153.32" y1="286.41" x2="153.32" y2="286.91" stroke="#1e1e1e" stroke-width="1.2"/>
<line x1="153.32" y1="293.91" x2="153.32" y2="294.41" stroke="#1e1e1e" stroke-width="1.2"/>
<line x1="150.07" y1="286.41" x2="156.57" y2="286.41" stroke="#1e1e1e" stroke-width="1.2"/>
<line x1="150.07" y1="294.41" x2="156.57" y2="294.41" stroke="#1e1e1e" stroke-width="1.2"/>
<line x1="162.75" y1="284.87" x2="162.75" y2="285.38" stroke="#1e1e1e" stroke-width="1.2"/>
<line x1="162.75" y1="292.38" x2="162.75" y2="292.88" stroke="#1e1e1e" stroke-width="1.2"/>
<line x1="159.5" y1="284.87" x2="166" y2="284.87" stroke="#1e1e1e" stroke-width="1.2"/>
<line x1="159.5" y1="292.88" x2="166" y2="292.88" stroke="#1e1e1e" stroke-width="1.2"/>
<line x1="174.07" y1="279.34" x2="174.07" y2="279.84" stroke="#1e1e1e" stroke-width="1.2"/>
<line x1="174.07" y1="286.84" x2="174.07" y2="287.35" stroke="#1e1e1e" stroke-width="1.2"/>
<line x1="170.82" y1="279.34" x2="177.32" y2="279.34" stroke="#1e1e1e" stroke-width="1.2"/>
<line x1="170.82" y1="287.35" x2="177.32" y2="287.35" stroke="#1e1e1e" stroke-width="1.2"/>
<rect x="50.05" y="345.59" width="6.89" height="5.98" fill="none" stroke="#5e5e5e" stroke-width="1.1"/>
<rect x="53" y="348.08" width="1" height="1" fill="#5e5e5e"/>
<rect x="56.34" y="336.29" width="6.89" height="5.98" fill="none" stroke="#5e5e5e" stroke-width="1.1"/>
<rect x="59.29" y="338.78" width="1" height="1" fill="#5e5e5e"/>
<rect x="63.1" y="326.87" width="6.89" height="5.98" fill="none" stroke="#5e5e5e" stroke-width="1.1"/>
<rect x="66.05" y="329.36" width="1" height="1" fill="#5e5e5e"/>
<rect x="69.86" y="322.16" width="6.89" height="5.98" fill="none" stroke="#5e5e5e" stroke-width="1.1"/>
<rect x="72.81" y="324.65" width="1" height="1" fill="#5e5e5e"/>
<rect x="77.56" y="319.8" width="6.89" height="5.98" fill="none" stroke="#5e5e5e" stroke-width="1.1"/>
<rect x="80.51" y="322.29" width="1" height="1" fill="#5e5e5e"/>
<rect x="84.64" y="316.86" width="6.89" height="5.98" fill="none" stroke="#5e5e5e" stroke-width="1.1"/>
<rect x="87.58" y="319.35" width="1" height="1" fill="#5e5e5e"/>
<rect x="92.97" y="313.91" width="6.89" height="5.98" fill="none" stroke="#5e5e5e" stroke-width="1.1"/>
<rect x="95.92" y="316.4" width="1" height="1" fill="#5e5e5e"/>
<rect x="99.1" y="311.32" width="6.89" height="5.98" fill="none" stroke="#5e5e5e" stroke-width="1.1"/>
<rect x="102.05" y="313.81" width="1" height="1" fill="#5e5e5e"/>
<rect x="104.6" y="308.97" width="6.89" height="5.98" fill="none" stroke="#5e5e5e" stroke-width="1.1"/>
<rect x="107.55" y="311.46" width="1" height="1" fill="#5e5e5e"/>
<rect x="111.36" y="305.43" width="6.89" height="5.98" fill="none" stroke="#5e5e5e" stroke-width="1.1"/>
<rect x="114.31" y="307.92" width="1" height="1" fill="#5e5e5e"/>
<rect x="117.65" y="303.31" width="6.89" height="5.98" fill="none" stroke="#5e5e5e" stroke-width="1.1"/>
<rect x="120.6" y="305.81" width="1" height="1" fill="#5e5e5e"/>
<rect x="123.15" y="298.61" width="6.89" height="5.98" fill="none" stroke="#5e5e5e" stroke-width="1.1"/>
<rect x="126.1" y="301.1" width="1" height="1" fill="#5e5e5e"/>
<rect x="128.03" y="296.25" width="6.89" height="5.98" fill="none" stroke="#5e5e5e" stroke-width="1.1"/>
<rect x="130.97" y="298.74" width="1" height="1" fill="#5e5e5e"/>
<rect x="133.06" y="293.89" width="6.89" height="5.98" fill="none" stroke="#5e5e5e" stroke-width="1.1"/>
<rect x="136" y="296.38" width="1" height="1" fill="#5e5e5e"/>
<rect x="138.09" y="291.3" width="6.89" height="5.98" fill="none" stroke="#5e5e5e" stroke-width="1.1"/>
<rect x="141.03" y="293.79" width="1" height="1" fill="#5e5e5e"/>
<rect x="143.9" y="288.95" width="6.89" height="5.98" fill="none" stroke="#5e5e5e" stroke-width="1.1"/>
<rect x="146.85" y="291.44" width="1" height="1" fill="#5e5e5e"/>
<rect x="149.88" y="287.42" width="6.89" height="5.98" fill="none" stroke="#5e5e5e" stroke-width="1.1"/>
<rect x="152.82" y="289.91" width="1" height="1" fill="#5e5e5e"/>
<rect x="159.31" y="285.89" width="6.89" height="5.98" fill="none" stroke="#5e5e5e" stroke-width="1.1"/>
<rect x="162.25" y="288.38" width="1" height="1" fill="#5e5e5e"/>
<rect x="170.63" y="280.35" width="6.89" height="5.98" fill="none" stroke="#5e5e5e" stroke-width="1.1"/>
<rect x="173.57" y="282.84" width="1" height="1" fill="#5e5e5e"/>
<path d="M53.5,348.58 C55.15,346.38 60.86,338.35 63.4,335.39 C65.94,332.43 66.7,332.92 68.75,330.8 C70.79,328.68 73.75,324.89 75.67,322.67 C77.58,320.45 78.42,319.65 80.22,317.49 C82.03,315.33 84.7,312.21 86.51,309.72 C88.32,307.23 89.16,305.38 91.07,302.54 C92.98,299.69 95.94,294.8 97.99,292.65 C100.03,290.49 101.66,290.64 103.33,289.58 C105.01,288.52 106.4,287.48 108.05,286.29 C109.7,285.09 111.45,283.88 113.24,282.4 C115.02,280.92 116.9,279.06 118.74,277.39 C120.57,275.72 122.41,274.05 124.24,272.38 C126.07,270.71 127.91,269.04 129.74,267.37 C131.58,265.7 133.41,264.03 135.24,262.36 C137.08,260.69 138.91,259.02 140.75,257.35 C142.58,255.68 144.41,254.01 146.25,252.34 C148.08,250.67 149.97,248.95 151.75,247.33 C153.53,245.7 156.07,243.39 156.94,242.6" fill="none" stroke="#1e1e1e" stroke-width="1.2"/>
<line x1="97.99" y1="287.94" x2="97.99" y2="289.15" stroke="#1e1e1e" stroke-width="1.2"/>
<line x1="97.99" y1="296.15" x2="97.99" y2="297.36" stroke="#1e1e1e" stroke-width="1.2"/>
<line x1="94.74" y1="287.94" x2="101.24" y2="287.94" stroke="#1e1e1e" stroke-width="1.2"/>
<line x1="94.74" y1="297.36" x2="101.24" y2="297.36" stroke="#1e1e1e" stroke-width="1.2"/>
<line x1="103.33" y1="284.29" x2="103.33" y2="286.08" stroke="#1e1e1e" stroke-width="1.2"/>
<line x1="103.33" y1="293.08" x2="103.33" y2="294.88" stroke="#1e1e1e" stroke-width="1.2"/>
<line x1="100.08" y1="284.29" x2="106.58" y2="284.29" stroke="#1e1e1e" stroke-width="1.2"/>
<line x1="100.08" y1="294.88" x2="106.58" y2="294.88" stroke="#1e1e1e" stroke-width="1.2"/>
<line x1="108.05" y1="280.99" x2="108.05" y2="282.79" stroke="#1e1e1e" stroke-width="1.2"/>
<line x1="108.05" y1="289.79" x2="108.05" y2="291.59" stroke="#1e1e1e" stroke-width="1.2"/>
<line x1="104.8" y1="280.99" x2="111.3" y2="280.99" stroke="#1e1e1e" stroke-width="1.2"/>
<line x1="104.8" y1="291.59" x2="111.3" y2="291.59" stroke="#1e1e1e" stroke-width="1.2"/>
<line x1="113.24" y1="276.51" x2="113.24" y2="278.9" stroke="#1e1e1e" stroke-width="1.2"/>
<line x1="113.24" y1="285.9" x2="113.24" y2="288.29" stroke="#1e1e1e" stroke-width="1.2"/>
<line x1="109.99" y1="276.51" x2="116.49" y2="276.51" stroke="#1e1e1e" stroke-width="1.2"/>
<line x1="109.99" y1="288.29" x2="116.49" y2="288.29" stroke="#1e1e1e" stroke-width="1.2"/>
<line x1="118.74" y1="271.5" x2="118.74" y2="273.89" stroke="#1e1e1e" stroke-width="1.2"/>
<line x1="118.74" y1="280.89" x2="118.74" y2="283.28" stroke="#1e1e1e" stroke-width="1.2"/>
<line x1="115.49" y1="271.5" x2="121.99" y2="271.5" stroke="#1e1e1e" stroke-width="1.2"/>
<line x1="115.49" y1="283.28" x2="121.99" y2="283.28" stroke="#1e1e1e" stroke-width="1.2"/>
<line x1="124.24" y1="265.9" x2="124.24" y2="268.88" stroke="#1e1e1e" stroke-width="1.2"/>
<line x1="124.24" y1="275.88" x2="124.24" y2="278.86" stroke="#1e1e1e" stroke-width="1.2"/>
<line x1="120.99" y1="265.9" x2="127.49" y2="265.9" stroke="#1e1e1e" stroke-width="1.2"/>
<line x1="120.99" y1="278.86" x2="127.49" y2="278.86" stroke="#1e1e1e" stroke-width="1.2"/>
<line x1="129.74" y1="260.89" x2="129.74" y2="263.87" stroke="#1e1e1e" stroke-width="1.2"/>
<line x1="129.74" y1="270.87" x2="129.74" y2="273.85" stroke="#1e1e1e" stroke-width="1.2"/>
<line x1="126.49" y1="260.89" x2="132.99" y2="260.89" stroke="#1e1e1e" stroke-width="1.2"/>
<line x1="126.49" y1="273.85" x2="132.99" y2="273.85" stroke="#1e1e1e" stroke-width="1.2"/>
<line x1="135.24" y1="255.29" x2="135.24" y2="258.86" stroke="#1e1e1e" stroke-width="1.2"/>
<line x1="135.24" y1="265.86" x2="135.24" y2="269.42" stroke="#1e1e1e" stroke-width="1.2"/>
<line x1="131.99" y1="255.29" x2="138.49" y2="255.29" stroke="#1e1e1e" stroke-width="1.2"/>
<line x1="131.99" y1="269.42" x2="138.49" y2="269.42" stroke="#1e1e1e" stroke-width="1.2"/>
<line x1="140.75" y1="250.28" x2="140.75" y2="253.85" stroke="#1e1e1e" stroke-width="1.2"/>
<line x1="140.75" y1="260.85" x2="140.75" y2="264.41" stroke="#1e1e1e" stroke-width="1.2"/>
<line x1="137.5" y1="250.28" x2="144" y2="250.28" stroke="#1e1e1e" stroke-width="1.2"/>
<line x1="137.5" y1="264.41" x2="144" y2="264.41" stroke="#1e1e1e" stroke-width="1.2"/>
<line x1="146.25" y1="244.68" x2="146.25" y2="248.84" stroke="#1e1e1e" stroke-width="1.2"/>
<line x1="146.25" y1="255.84" x2="146.25" y2="259.99" stroke="#1e1e1e" stroke-width="1.2"/>
<line x1="143" y1="244.68" x2="149.5" y2="244.68" stroke="#1e1e1e" stroke-width="1.2"/>
<line x1="143" y1="259.99" x2="149.5" y2="259.99" stroke="#1e1e1e" stroke-width="1.2"/>
<line x1="151.75" y1="239.08" x2="151.75" y2="243.83" stroke="#1e1e1e" stroke-width="1.2"/>
<line x1="151.75" y1="250.83" x2="151.75" y2="255.57" stroke="#1e1e1e" stroke-width="1.2"/>
<line x1="148.5" y1="239.08" x2="155" y2="239.08" stroke="#1e1e1e" stroke-width="1.2"/>
<line x1="148.5" y1="255.57" x2="155" y2="255.57" stroke="#1e1e1e" stroke-width="1.2"/>
<line x1="156.94" y1="233.77" x2="156.94" y2="239.1" stroke="#1e1e1e" stroke-width="1.2"/>
<line x1="156.94" y1="246.1" x2="156.94" y2="251.43" stroke="#1e1e1e" stroke-width="1.2"/>
<line x1="153.69" y1="233.77" x2="160.19" y2="233.77" stroke="#1e1e1e" stroke-width="1.2"/>
<line x1="153.69" y1="251.43" x2="160.19" y2="251.43" stroke="#1e1e1e" stroke-width="1.2"/>
<rect x="50.21" y="345.73" width="6.57" height="5.7" fill="none" stroke="#1e1e1e" stroke-width="1.4"/>
<rect x="60.12" y="332.54" width="6.57" height="5.7" fill="none" stroke="#1e1e1e" stroke-width="1.4"/>
<rect x="65.46" y="327.95" width="6.57" height="5.7" fill="none" stroke="#1e1e1e" stroke-width="1.4"/>
<rect x="72.38" y="319.82" width="6.57" height="5.7" fill="none" stroke="#1e1e1e" stroke-width="1.4"/>
<rect x="76.94" y="314.64" width="6.57" height="5.7" fill="none" stroke="#1e1e1e" stroke-width="1.4"/>
<rect x="83.23" y="306.87" width="6.57" height="5.7" fill="none" stroke="#1e1e1e" stroke-width="1.4"/>
<rect x="87.78" y="299.69" width="6.57" height="5.7" fill="none" stroke="#1e1e1e" stroke-width="1.4"/>
<rect x="94.7" y="289.79" width="6.57" height="5.7" fill="none" stroke="#1e1e1e" stroke-width="1.4"/>
<rect x="100.05" y="286.73" width="6.57" height="5.7" fill="none" stroke="#1e1e1e" stroke-width="1.4"/>
<rect x="104.76" y="283.44" width="6.57" height="5.7" fill="none" stroke="#1e1e1e" stroke-width="1.4"/>
<rect x="109.95" y="279.55" width="6.57" height="5.7" fill="none" stroke="#1e1e1e" stroke-width="1.4"/>
<rect x="115.45" y="274.54" width="6.57" height="5.7" fill="none" stroke="#1e1e1e" stroke-width="1.4"/>
<rect x="120.95" y="269.53" width="6.57" height="5.7" fill="none" stroke="#1e1e1e" stroke-width="1.4"/>
<rect x="126.46" y="264.52" width="6.57" height="5.7" fill="none" stroke="#1e1e1e" stroke-width="1.4"/>
<rect x="131.96" y="259.51" width="6.57" height="5.7" fill="none" stroke="#1e1e1e" stroke-width="1.4"/>
<rect x="137.46" y="254.5" width="6.57" height="5.7" fill="none" stroke="#1e1e1e" stroke-width="1.4"/>
<rect x="142.96" y="249.49" width="6.57" height="5.7" fill="none" stroke="#1e1e1e" stroke-width="1.4"/>
<rect x="148.46" y="244.47" width="6.57" height="5.7" fill="none" stroke="#1e1e1e" stroke-width="1.4"/>
<rect x="153.65" y="239.75" width="6.57" height="5.7" fill="none" stroke="#1e1e1e" stroke-width="1.4"/>
<path d="M53.5,348.58 C55.41,348.32 62.16,347.29 64.98,347.05 C67.79,346.8 68.59,347.09 70.4,347.12 C72.21,347.14 74.01,347.17 75.82,347.19 C77.63,347.21 79.44,347.24 81.25,347.26 C83.05,347.29 84.86,347.31 86.67,347.33 C88.48,347.36 90.28,347.38 92.09,347.4 C93.9,347.43 95.71,347.53 97.52,347.48 C99.32,347.42 101.13,347.31 102.94,347.05 C104.75,346.8 106.55,346.3 108.36,345.94 C110.17,345.59 111.98,345.2 113.79,344.93 C115.59,344.65 117.4,344.51 119.21,344.3 C121.02,344.09 122.83,343.88 124.63,343.67 C126.44,343.46 128.25,343.3 130.06,343.04 C131.86,342.79 133.67,342.48 135.48,342.16 C137.29,341.83 139.1,341.46 140.9,341.11 C142.71,340.76 144.52,340.41 146.33,340.06 C148.13,339.71 149.94,339.5 151.75,339.02 C153.56,338.53 155.37,337.81 157.17,337.16 C158.98,336.51 159.78,335.8 162.6,335.1 C165.41,334.39 170.38,333.44 174.07,332.92 C177.77,332.4 181.15,332.56 184.76,331.97 C188.38,331.39 192.12,330.44 195.77,329.38 C199.41,328.32 204.81,326.24 206.61,325.62" fill="none" stroke="#a82a2a" stroke-width="1.2"/>
<line x1="206.61" y1="320.91" x2="206.61" y2="321.97" stroke="#a82a2a" stroke-width="1.2"/>
<line x1="206.61" y1="329.27" x2="206.61" y2="330.33" stroke="#a82a2a" stroke-width="1.2"/>
<line x1="203.36" y1="320.91" x2="209.86" y2="320.91" stroke="#a82a2a" stroke-width="1.2"/>
<line x1="203.36" y1="330.33" x2="209.86" y2="330.33" stroke="#a82a2a" stroke-width="1.2"/>
<circle cx="53.5" cy="348.58" r="3.3" fill="none" stroke="#a82a2a" stroke-width="1.3"/>
<circle cx="64.98" cy="347.05" r="3.3" fill="none" stroke="#a82a2a" stroke-width="1.3"/>
<circle cx="70.4" cy="347.12" r="3.3" fill="none" stroke="#a82a2a" stroke-width="1.3"/>
<circle cx="75.82" cy="347.19" r="3.3" fill="none" stroke="#a82a2a" stroke-width="1.3"/>
<circle cx="81.25" cy="347.26" r="3.3" fill="none" stroke="#a82a2a" stroke-width="1.3"/>
<circle cx="86.67" cy="347.33" r="3.3" fill="none" stroke="#a82a2a" stroke-width="1.3"/>
<circle cx="92.09" cy="347.4" r="3.3" fill="none" stroke="#a82a2a" stroke-width="1.3"/>
<circle cx="97.52" cy="347.48" r="3.3" fill="none" stroke="#a82a2a" stroke-width="1.3"/>
<circle cx="102.94" cy="347.05" r="3.3" fill="none" stroke="#a82a2a" stroke-width="1.3"/>
<circle cx="108.36" cy="345.94" r="3.3" fill="none" stroke="#a82a2a" stroke-width="1.3"/>
<circle cx="113.79" cy="344.93" r="3.3" fill="none" stroke="#a82a2a" stroke-width="1.3"/>
<circle cx="119.21" cy="344.3" r="3.3" fill="none" stroke="#a82a2a" stroke-width="1.3"/>
<circle cx="124.63" cy="343.67" r="3.3" fill="none" stroke="#a82a2a" stroke-width="1.3"/>
<circle cx="130.06" cy="343.04" r="3.3" fill="none" stroke="#a82a2a" stroke-width="1.3"/>
<circle cx="135.48" cy="342.16" r="3.3" fill="none" stroke="#a82a2a" stroke-width="1.3"/>
<circle cx="140.9" cy="341.11" r="3.3" fill="none" stroke="#a82a2a" stroke-width="1.3"/>
<circle cx="146.33" cy="340.06" r="3.3" fill="none" stroke="#a82a2a" stroke-width="1.3"/>
<circle cx="151.75" cy="339.02" r="3.3" fill="none" stroke="#a82a2a" stroke-width="1.3"/>
<circle cx="157.17" cy="337.16" r="3.3" fill="none" stroke="#a82a2a" stroke-width="1.3"/>
<circle cx="162.6" cy="335.1" r="3.3" fill="none" stroke="#a82a2a" stroke-width="1.3"/>
<circle cx="174.07" cy="332.92" r="3.3" fill="none" stroke="#a82a2a" stroke-width="1.3"/>
<circle cx="184.76" cy="331.97" r="3.3" fill="none" stroke="#a82a2a" stroke-width="1.3"/>
<circle cx="195.77" cy="329.38" r="3.3" fill="none" stroke="#a82a2a" stroke-width="1.3"/>
<circle cx="206.61" cy="325.62" r="3.3" fill="none" stroke="#a82a2a" stroke-width="1.3"/>
<path d="M53.5,348.58 C55.41,347.26 62.16,342.06 64.98,340.69 C67.79,339.32 68.59,340.48 70.4,340.37 C72.21,340.27 74.01,340.16 75.82,340.06 C77.63,339.95 79.44,339.93 81.25,339.73 C83.05,339.53 84.86,339.33 86.67,338.86 C88.48,338.39 90.28,337.49 92.09,336.91 C93.9,336.34 95.71,335.98 97.52,335.4 C99.32,334.83 101.13,334.02 102.94,333.47 C104.75,332.93 106.55,332.62 108.36,332.12 C110.17,331.63 111.98,331.05 113.79,330.52 C115.59,330 117.4,329.55 119.21,328.98 C121.02,328.41 122.83,327.74 124.63,327.1 C126.44,326.47 128.25,325.96 130.06,325.17 C131.86,324.39 133.67,323.32 135.48,322.4 C137.29,321.49 139.1,320.57 140.9,319.67 C142.71,318.78 144.52,317.95 146.33,317.05 C148.13,316.15 149.94,315.11 151.75,314.29 C153.56,313.47 155.37,312.84 157.17,312.16 C158.98,311.47 159.78,310.75 162.6,310.18 C165.41,309.62 170.38,309.31 174.07,308.78 C177.77,308.25 181.15,307.99 184.76,307.01 C188.38,306.03 192.12,304.07 195.77,302.89 C199.41,301.71 204.81,300.44 206.61,299.95" fill="none" stroke="#2b2bab" stroke-width="1.2"/>
<line x1="206.61" y1="294.65" x2="206.61" y2="296.25" stroke="#2b2bab" stroke-width="1.2"/>
<line x1="206.61" y1="303.65" x2="206.61" y2="305.25" stroke="#2b2bab" stroke-width="1.2"/>
<line x1="203.36" y1="294.65" x2="209.86" y2="294.65" stroke="#2b2bab" stroke-width="1.2"/>
<line x1="203.36" y1="305.25" x2="209.86" y2="305.25" stroke="#2b2bab" stroke-width="1.2"/>
<path d="M53.5,345.28 L56.97,351.22 L50.03,351.22 Z" fill="none" stroke="#2b2bab" stroke-width="1.4" stroke-linejoin="miter"/>
<path d="M64.98,337.39 L68.44,343.33 L61.51,343.33 Z" fill="none" stroke="#2b2bab" stroke-width="1.4" stroke-linejoin="miter"/>
<path d="M70.4,337.07 L73.86,343.01 L66.93,343.01 Z" fill="none" stroke="#2b2bab" stroke-width="1.4" stroke-linejoin="miter"/>
<path d="M75.82,336.76 L79.29,342.7 L72.36,342.7 Z" fill="none" stroke="#2b2bab" stroke-width="1.4" stroke-linejoin="miter"/>
<path d="M81.25,336.43 L84.71,342.37 L77.78,342.37 Z" fill="none" stroke="#2b2bab" stroke-width="1.4" stroke-linejoin="miter"/>
<path d="M86.67,335.56 L90.13,341.5 L83.2,341.5 Z" fill="none" stroke="#2b2bab" stroke-width="1.4" stroke-linejoin="miter"/>
<path d="M92.09,333.61 L95.56,339.55 L88.63,339.55 Z" fill="none" stroke="#2b2bab" stroke-width="1.4" stroke-linejoin="miter"/>
<path d="M97.52,332.1 L100.98,338.04 L94.05,338.04 Z" fill="none" stroke="#2b2bab" stroke-width="1.4" stroke-linejoin="miter"/>
<path d="M102.94,330.17 L106.4,336.11 L99.47,336.11 Z" fill="none" stroke="#2b2bab" stroke-width="1.4" stroke-linejoin="miter"/>
<path d="M108.36,328.82 L111.83,334.76 L104.9,334.76 Z" fill="none" stroke="#2b2bab" stroke-width="1.4" stroke-linejoin="miter"/>
<path d="M113.79,327.22 L117.25,333.16 L110.32,333.16 Z" fill="none" stroke="#2b2bab" stroke-width="1.4" stroke-linejoin="miter"/>
<path d="M119.21,325.68 L122.67,331.62 L115.74,331.62 Z" fill="none" stroke="#2b2bab" stroke-width="1.4" stroke-linejoin="miter"/>
<path d="M124.63,323.8 L128.1,329.74 L121.17,329.74 Z" fill="none" stroke="#2b2bab" stroke-width="1.4" stroke-linejoin="miter"/>
<path d="M130.06,321.87 L133.52,327.81 L126.59,327.81 Z" fill="none" stroke="#2b2bab" stroke-width="1.4" stroke-linejoin="miter"/>
<path d="M135.48,319.1 L138.94,325.04 L132.01,325.04 Z" fill="none" stroke="#2b2bab" stroke-width="1.4" stroke-linejoin="miter"/>
<path d="M140.9,316.37 L144.37,322.31 L137.44,322.31 Z" fill="none" stroke="#2b2bab" stroke-width="1.4" stroke-linejoin="miter"/>
<path d="M146.33,313.75 L149.79,319.69 L142.86,319.69 Z" fill="none" stroke="#2b2bab" stroke-width="1.4" stroke-linejoin="miter"/>
<path d="M151.75,310.99 L155.22,316.93 L148.28,316.93 Z" fill="none" stroke="#2b2bab" stroke-width="1.4" stroke-linejoin="miter"/>
<path d="M157.17,308.86 L160.64,314.8 L153.71,314.8 Z" fill="none" stroke="#2b2bab" stroke-width="1.4" stroke-linejoin="miter"/>
<path d="M162.6,306.88 L166.06,312.82 L159.13,312.82 Z" fill="none" stroke="#2b2bab" stroke-width="1.4" stroke-linejoin="miter"/>
<path d="M174.07,305.48 L177.54,311.42 L170.61,311.42 Z" fill="none" stroke="#2b2bab" stroke-width="1.4" stroke-linejoin="miter"/>
<path d="M184.76,303.71 L188.23,309.65 L181.3,309.65 Z" fill="none" stroke="#2b2bab" stroke-width="1.4" stroke-linejoin="miter"/>
<path d="M195.77,299.59 L199.23,305.53 L192.3,305.53 Z" fill="none" stroke="#2b2bab" stroke-width="1.4" stroke-linejoin="miter"/>
<path d="M206.61,296.65 L210.08,302.59 L203.15,302.59 Z" fill="none" stroke="#2b2bab" stroke-width="1.4" stroke-linejoin="miter"/>
<text transform="translate(269,225.5)" font-size="14.3" text-anchor="start" fill="#141414" font-weight="bold" stroke="#141414" stroke-width="0.35">D</text>
<line x1="330.2" y1="237.7" x2="330.2" y2="378.6" stroke="#111" stroke-width="1.4"/>
<line x1="326" y1="374.4" x2="503.38" y2="374.4" stroke="#111" stroke-width="1.4"/>
<line x1="326.2" y1="374.4" x2="330.2" y2="374.4" stroke="#111" stroke-width="1.4"/>
<text transform="translate(324.5,379.1) scale(1.12,1)" font-size="10.0" text-anchor="end" fill="#141414" font-weight="bold" stroke="#141414" stroke-width="0.2">0</text>
<line x1="326.2" y1="340.4" x2="330.2" y2="340.4" stroke="#111" stroke-width="1.4"/>
<text transform="translate(324.5,345.1) scale(1.12,1)" font-size="10.0" text-anchor="end" fill="#141414" font-weight="bold" stroke="#141414" stroke-width="0.2">200</text>
<line x1="326.2" y1="306.4" x2="330.2" y2="306.4" stroke="#111" stroke-width="1.4"/>
<text transform="translate(324.5,311.1) scale(1.12,1)" font-size="10.0" text-anchor="end" fill="#141414" font-weight="bold" stroke="#141414" stroke-width="0.2">400</text>
<line x1="326.2" y1="272.4" x2="330.2" y2="272.4" stroke="#111" stroke-width="1.4"/>
<text transform="translate(324.5,277.1) scale(1.12,1)" font-size="10.0" text-anchor="end" fill="#141414" font-weight="bold" stroke="#141414" stroke-width="0.2">600</text>
<line x1="326.2" y1="238.4" x2="330.2" y2="238.4" stroke="#111" stroke-width="1.4"/>
<text transform="translate(324.5,243.1) scale(1.12,1)" font-size="10.0" text-anchor="end" fill="#141414" font-weight="bold" stroke="#141414" stroke-width="0.2">800</text>
<line x1="342.52" y1="374.4" x2="342.52" y2="377.4" stroke="#111" stroke-width="1.4"/>
<line x1="367.16" y1="374.4" x2="367.16" y2="377.4" stroke="#111" stroke-width="1.4"/>
<line x1="391.8" y1="374.4" x2="391.8" y2="377.4" stroke="#111" stroke-width="1.4"/>
<line x1="416.44" y1="374.4" x2="416.44" y2="377.4" stroke="#111" stroke-width="1.4"/>
<line x1="441.08" y1="374.4" x2="441.08" y2="377.4" stroke="#111" stroke-width="1.4"/>
<line x1="465.72" y1="374.4" x2="465.72" y2="377.4" stroke="#111" stroke-width="1.4"/>
<line x1="490.36" y1="374.4" x2="490.36" y2="377.4" stroke="#111" stroke-width="1.4"/>
<line x1="330.2" y1="374.4" x2="330.2" y2="378.6" stroke="#111" stroke-width="1.4"/>
<text transform="translate(330.2,389.9) scale(1.08,1)" font-size="10.0" text-anchor="middle" fill="#141414" font-weight="bold" stroke="#141414" stroke-width="0.2">0</text>
<line x1="354.84" y1="374.4" x2="354.84" y2="378.6" stroke="#111" stroke-width="1.4"/>
<text transform="translate(354.84,389.9) scale(1.08,1)" font-size="10.0" text-anchor="middle" fill="#141414" font-weight="bold" stroke="#141414" stroke-width="0.2">2</text>
<line x1="379.48" y1="374.4" x2="379.48" y2="378.6" stroke="#111" stroke-width="1.4"/>
<text transform="translate(379.48,389.9) scale(1.08,1)" font-size="10.0" text-anchor="middle" fill="#141414" font-weight="bold" stroke="#141414" stroke-width="0.2">4</text>
<line x1="404.12" y1="374.4" x2="404.12" y2="378.6" stroke="#111" stroke-width="1.4"/>
<text transform="translate(404.12,389.9) scale(1.08,1)" font-size="10.0" text-anchor="middle" fill="#141414" font-weight="bold" stroke="#141414" stroke-width="0.2">6</text>
<line x1="428.76" y1="374.4" x2="428.76" y2="378.6" stroke="#111" stroke-width="1.4"/>
<text transform="translate(428.76,389.9) scale(1.08,1)" font-size="10.0" text-anchor="middle" fill="#141414" font-weight="bold" stroke="#141414" stroke-width="0.2">8</text>
<line x1="453.4" y1="374.4" x2="453.4" y2="378.6" stroke="#111" stroke-width="1.4"/>
<text transform="translate(453.4,389.9) scale(1.08,1)" font-size="10.0" text-anchor="middle" fill="#141414" font-weight="bold" stroke="#141414" stroke-width="0.2">10</text>
<line x1="478.04" y1="374.4" x2="478.04" y2="378.6" stroke="#111" stroke-width="1.4"/>
<text transform="translate(478.04,389.9) scale(1.08,1)" font-size="10.0" text-anchor="middle" fill="#141414" font-weight="bold" stroke="#141414" stroke-width="0.2">12</text>
<line x1="502.68" y1="374.4" x2="502.68" y2="378.6" stroke="#111" stroke-width="1.4"/>
<text transform="translate(502.68,389.9) scale(1.08,1)" font-size="10.0" text-anchor="middle" fill="#141414" font-weight="bold" stroke="#141414" stroke-width="0.2">14</text>
<text transform="translate(283,303.8) rotate(-90)" font-size="11" text-anchor="middle" fill="#141414" font-weight="bold" stroke="#141414" stroke-width="0.35">Tumor volume (mm<tspan font-size="7.0" dx="0.8" dy="-4.0">3</tspan><tspan dx="0.9" dy="4.0">)</tspan></text>
<text transform="translate(296.5,304.3) rotate(-90)" font-size="11" text-anchor="middle" fill="#141414" font-weight="bold" stroke="#141414" stroke-width="0.35">mean ± SEM</text>
<text transform="translate(416.9,405.2) scale(1.05,1)" font-size="10.3" text-anchor="middle" fill="#141414" font-weight="bold" stroke="#141414" stroke-width="0.35">Days after treatment</text>
<text transform="translate(503.9,345.4)" font-size="13" text-anchor="start" fill="#141414" font-weight="bold" stroke="#141414" stroke-width="0.3">*</text>
<text transform="translate(497.5,361.4)" font-size="13" text-anchor="start" fill="#141414" font-weight="bold" stroke="#141414" stroke-width="0.3">*</text>
<text transform="translate(504.3,361.4)" font-size="13" text-anchor="start" fill="#141414" font-weight="bold" stroke="#141414" stroke-width="0.3">*</text>
<polyline points="330.2,340.06 379.48,346.52 404.12,347.71 428.76,350.09 465.72,351.11 490.36,354.17" fill="none" stroke="#9238b2" stroke-width="1.4" stroke-linejoin="round"/>
<circle cx="330.2" cy="340.06" r="2.55" fill="none" stroke="#9238b2" stroke-width="1.4"/>
<circle cx="379.48" cy="346.52" r="2.55" fill="none" stroke="#9238b2" stroke-width="1.4"/>
<circle cx="404.12" cy="347.71" r="2.55" fill="none" stroke="#9238b2" stroke-width="1.4"/>
<circle cx="428.76" cy="350.09" r="2.55" fill="none" stroke="#9238b2" stroke-width="1.4"/>
<circle cx="465.72" cy="351.11" r="2.55" fill="none" stroke="#9238b2" stroke-width="1.4"/>
<circle cx="490.36" cy="354.17" r="2.55" fill="none" stroke="#9238b2" stroke-width="1.4"/>
<polyline points="330.2,340.06 379.48,341.59 404.12,340.91 428.76,340.91 465.72,340.91 490.36,339.04" fill="none" stroke="#2f922f" stroke-width="1.4" stroke-linejoin="round"/>
<path d="M330.2,337.46 L332.8,340.06 L330.2,342.66 L327.6,340.06 Z" fill="none" stroke="#2f922f" stroke-width="1.4"/>
<path d="M379.48,338.99 L382.08,341.59 L379.48,344.19 L376.88,341.59 Z" fill="none" stroke="#2f922f" stroke-width="1.4"/>
<path d="M404.12,338.31 L406.72,340.91 L404.12,343.51 L401.52,340.91 Z" fill="none" stroke="#2f922f" stroke-width="1.4"/>
<path d="M428.76,338.31 L431.36,340.91 L428.76,343.51 L426.16,340.91 Z" fill="none" stroke="#2f922f" stroke-width="1.4"/>
<path d="M465.72,338.31 L468.32,340.91 L465.72,343.51 L463.12,340.91 Z" fill="none" stroke="#2f922f" stroke-width="1.4"/>
<path d="M490.36,336.44 L492.96,339.04 L490.36,341.64 L487.76,339.04 Z" fill="none" stroke="#2f922f" stroke-width="1.4"/>
<polyline points="330.2,340.06 379.48,335.81 404.12,334.28 428.76,329.18 465.72,322.89 490.36,313.2" fill="none" stroke="#2a2aa8" stroke-width="1.3" stroke-linejoin="round"/>
<path d="M330.2,337.51 L332.88,342.1 L327.52,342.1 Z" fill="none" stroke="#2a2aa8" stroke-width="1.4" stroke-linejoin="miter"/>
<path d="M379.48,333.26 L382.16,337.85 L376.8,337.85 Z" fill="none" stroke="#2a2aa8" stroke-width="1.4" stroke-linejoin="miter"/>
<path d="M404.12,331.73 L406.8,336.32 L401.44,336.32 Z" fill="none" stroke="#2a2aa8" stroke-width="1.4" stroke-linejoin="miter"/>
<path d="M428.76,326.63 L431.44,331.22 L426.08,331.22 Z" fill="none" stroke="#2a2aa8" stroke-width="1.4" stroke-linejoin="miter"/>
<path d="M465.72,320.34 L468.4,324.93 L463.04,324.93 Z" fill="none" stroke="#2a2aa8" stroke-width="1.4" stroke-linejoin="miter"/>
<path d="M490.36,310.65 L493.04,315.24 L487.68,315.24 Z" fill="none" stroke="#2a2aa8" stroke-width="1.4" stroke-linejoin="miter"/>
<polyline points="330.2,340.06 379.48,335.81 404.12,334.28 428.76,329.18 465.72,320.34 490.36,310.65" fill="none" stroke="#9a1c44" stroke-width="1.5" stroke-linejoin="round"/>
<line x1="465.72" y1="316.94" x2="465.72" y2="317.39" stroke="#9a1c44" stroke-width="1.2"/>
<line x1="465.72" y1="323.29" x2="465.72" y2="323.74" stroke="#9a1c44" stroke-width="1.2"/>
<line x1="462.97" y1="316.94" x2="468.47" y2="316.94" stroke="#9a1c44" stroke-width="1.2"/>
<line x1="462.97" y1="323.74" x2="468.47" y2="323.74" stroke="#9a1c44" stroke-width="1.2"/>
<line x1="490.36" y1="306.91" x2="490.36" y2="307.7" stroke="#9a1c44" stroke-width="1.2"/>
<line x1="490.36" y1="313.6" x2="490.36" y2="314.39" stroke="#9a1c44" stroke-width="1.2"/>
<line x1="487.61" y1="306.91" x2="493.11" y2="306.91" stroke="#9a1c44" stroke-width="1.2"/>
<line x1="487.61" y1="314.39" x2="493.11" y2="314.39" stroke="#9a1c44" stroke-width="1.2"/>
<circle cx="330.2" cy="340.06" r="2.55" fill="none" stroke="#9a1c44" stroke-width="1.4"/>
<circle cx="379.48" cy="335.81" r="2.55" fill="none" stroke="#9a1c44" stroke-width="1.4"/>
<circle cx="404.12" cy="334.28" r="2.55" fill="none" stroke="#9a1c44" stroke-width="1.4"/>
<circle cx="428.76" cy="329.18" r="2.55" fill="none" stroke="#9a1c44" stroke-width="1.4"/>
<circle cx="465.72" cy="320.34" r="2.55" fill="none" stroke="#9a1c44" stroke-width="1.4"/>
<circle cx="490.36" cy="310.65" r="2.55" fill="none" stroke="#9a1c44" stroke-width="1.4"/>
<polyline points="330.2,340.06 379.48,327.82 404.12,318.3 428.76,306.57 465.72,289.57 490.36,277.5" fill="none" stroke="#1e1e1e" stroke-width="1.3" stroke-linejoin="round"/>
<line x1="428.76" y1="302.83" x2="428.76" y2="303.37" stroke="#1e1e1e" stroke-width="1.2"/>
<line x1="428.76" y1="309.77" x2="428.76" y2="310.31" stroke="#1e1e1e" stroke-width="1.2"/>
<line x1="426.01" y1="302.83" x2="431.51" y2="302.83" stroke="#1e1e1e" stroke-width="1.2"/>
<line x1="426.01" y1="310.31" x2="431.51" y2="310.31" stroke="#1e1e1e" stroke-width="1.2"/>
<line x1="465.72" y1="285.49" x2="465.72" y2="286.37" stroke="#1e1e1e" stroke-width="1.2"/>
<line x1="465.72" y1="292.77" x2="465.72" y2="293.65" stroke="#1e1e1e" stroke-width="1.2"/>
<line x1="462.97" y1="285.49" x2="468.47" y2="285.49" stroke="#1e1e1e" stroke-width="1.2"/>
<line x1="462.97" y1="293.65" x2="468.47" y2="293.65" stroke="#1e1e1e" stroke-width="1.2"/>
<line x1="490.36" y1="273.08" x2="490.36" y2="274.3" stroke="#1e1e1e" stroke-width="1.2"/>
<line x1="490.36" y1="280.7" x2="490.36" y2="281.92" stroke="#1e1e1e" stroke-width="1.2"/>
<line x1="487.61" y1="273.08" x2="493.11" y2="273.08" stroke="#1e1e1e" stroke-width="1.2"/>
<line x1="487.61" y1="281.92" x2="493.11" y2="281.92" stroke="#1e1e1e" stroke-width="1.2"/>
<rect x="327.23" y="337.48" width="5.94" height="5.15" fill="none" stroke="#1e1e1e" stroke-width="1.4"/>
<rect x="376.51" y="325.24" width="5.94" height="5.15" fill="none" stroke="#1e1e1e" stroke-width="1.4"/>
<rect x="401.15" y="315.72" width="5.94" height="5.15" fill="none" stroke="#1e1e1e" stroke-width="1.4"/>
<rect x="425.79" y="303.99" width="5.94" height="5.15" fill="none" stroke="#1e1e1e" stroke-width="1.4"/>
<rect x="462.75" y="286.99" width="5.94" height="5.15" fill="none" stroke="#1e1e1e" stroke-width="1.4"/>
<rect x="487.39" y="274.92" width="5.94" height="5.15" fill="none" stroke="#1e1e1e" stroke-width="1.4"/>
</svg></body></html>
